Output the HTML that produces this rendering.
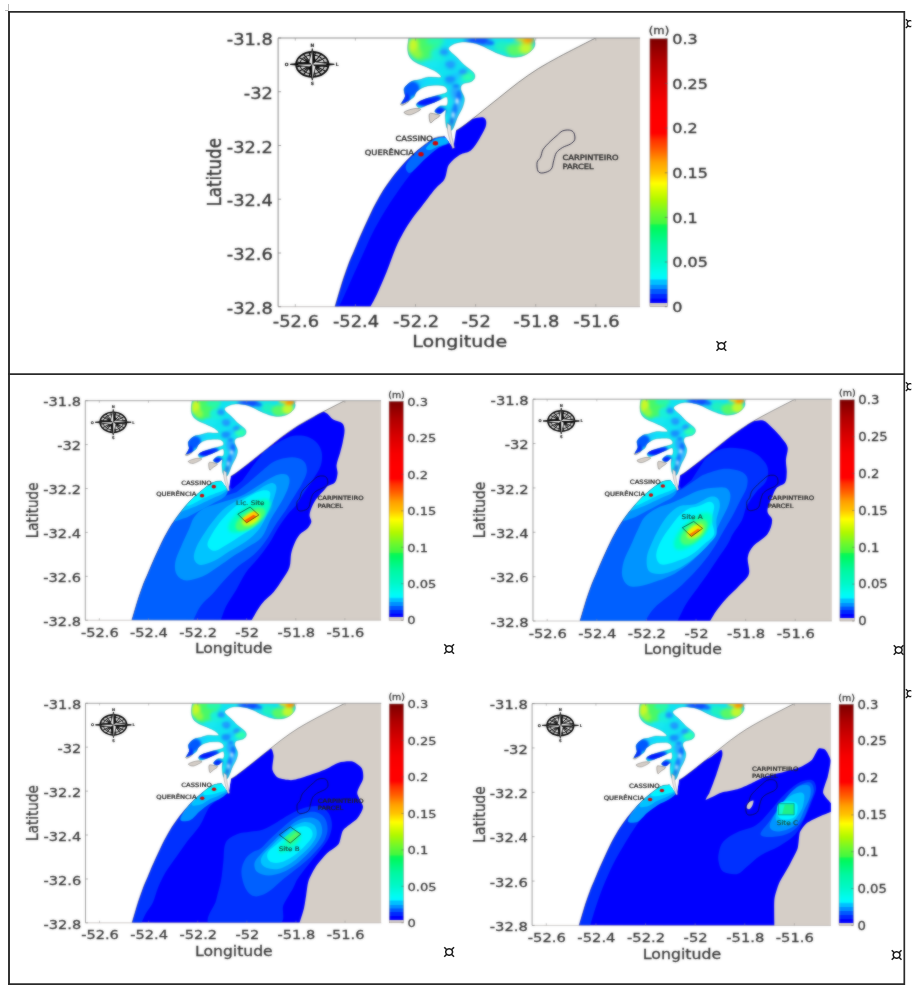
<!DOCTYPE html><html><head><meta charset="utf-8"><title>Figure</title>
<style>html,body{margin:0;padding:0;background:#fff}svg{display:block}text{font-family:"DejaVu Sans","Liberation Sans",sans-serif}</style></head><body>
<svg width="915" height="990" viewBox="0 0 915 990">
<defs><linearGradient id="cb" x1="0" y1="1" x2="0" y2="0"><stop offset="0" stop-color="#d5cec7"/><stop offset="0.0125" stop-color="#d5cec7"/><stop offset="0.0126" stop-color="#0000ff"/><stop offset="0.03" stop-color="#0000ff"/><stop offset="0.031" stop-color="#0028ff"/><stop offset="0.048" stop-color="#0028ff"/><stop offset="0.049" stop-color="#0058ff"/><stop offset="0.065" stop-color="#0058ff"/><stop offset="0.066" stop-color="#0090ff"/><stop offset="0.082" stop-color="#0090ff"/><stop offset="0.083" stop-color="#00c0ff"/><stop offset="0.098" stop-color="#00c0ff"/><stop offset="0.105" stop-color="#00f8ff"/><stop offset="0.125" stop-color="#00fcf0"/><stop offset="0.17" stop-color="#00f8c8"/><stop offset="0.23" stop-color="#00f8a0"/><stop offset="0.29" stop-color="#00f860"/><stop offset="0.305" stop-color="#10f850"/><stop offset="0.31" stop-color="#40f840"/><stop offset="0.345" stop-color="#68f830"/><stop offset="0.4" stop-color="#b0f800"/><stop offset="0.46" stop-color="#ffff00"/><stop offset="0.5" stop-color="#ffc400"/><stop offset="0.54" stop-color="#ffa000"/><stop offset="0.584" stop-color="#ff6000"/><stop offset="0.623" stop-color="#ff3000"/><stop offset="0.648" stop-color="#ff0000"/><stop offset="0.7" stop-color="#ff0000"/><stop offset="0.76" stop-color="#f80000"/><stop offset="0.84" stop-color="#d80000"/><stop offset="0.92" stop-color="#b00000"/><stop offset="1" stop-color="#7c0000"/></linearGradient><filter color-interpolation-filters="sRGB" id="b0" x="-20%" y="-20%" width="140%" height="140%"><feGaussianBlur stdDeviation="0.45"/></filter><filter color-interpolation-filters="sRGB" id="b1" x="-5%" y="-5%" width="110%" height="110%"><feGaussianBlur stdDeviation="0.82" result="b"/><feComposite in="b" in2="SourceGraphic" operator="arithmetic" k1="0" k2="0.55" k3="0.45" k4="0"/></filter><filter color-interpolation-filters="sRGB" id="b1s" x="-5%" y="-5%" width="110%" height="110%"><feGaussianBlur stdDeviation="1.0" result="b"/><feComposite in="b" in2="SourceGraphic" operator="arithmetic" k1="0" k2="0.55" k3="0.45" k4="0"/></filter><filter color-interpolation-filters="sRGB" id="b2" x="-50%" y="-50%" width="200%" height="200%"><feGaussianBlur stdDeviation="2.2"/></filter><filter color-interpolation-filters="sRGB" id="b4" x="-50%" y="-50%" width="200%" height="200%"><feGaussianBlur stdDeviation="3"/></filter><filter color-interpolation-filters="sRGB" id="b5" x="-30%" y="-30%" width="160%" height="160%"><feGaussianBlur stdDeviation="0.8"/></filter><filter color-interpolation-filters="sRGB" id="b3" x="-50%" y="-50%" width="200%" height="200%"><feGaussianBlur stdDeviation="1.2"/></filter><clipPath id="lagclip"><path d="M131.2,-12C110.7,-10.5 131.3,-6.6 131,-3C130.7,0.6 129.5,6 129.5,9.5C129.5,13 129.9,15.7 131.2,18.2C132.5,20.7 134.3,22.4 137.4,24.3C140.5,26.2 146.1,28 149.6,29.6C153.1,31.2 156.1,32.4 158.3,34C160.5,35.6 164.1,38.3 162.7,39.2C161.2,40.1 153.2,38.8 149.6,39.2C146,39.6 143.7,41.1 140.9,41.8C138.1,42.5 135.5,42.1 133,43.6C130.5,45.1 127,48.1 126,50.6C125,53.1 127.3,55.9 126.9,58.4C126.5,60.9 123.1,64.5 123.4,65.4C123.7,66.3 126.6,64.7 128.6,63.7C130.6,62.7 133.8,61 135.6,59.3C137.3,57.5 136.8,55.1 139.1,53.2C141.4,51.3 145.2,48.8 149.6,47.9C154,47 162.1,46.9 165.3,47.9C168.5,48.9 170,52.5 168.8,54.1C167.6,55.7 162.4,56.3 158.3,57.6C154.2,58.9 147.7,60.5 144.3,61.9C141,63.3 138.6,65 138.2,66.3C137.8,67.6 139.5,69.8 141.7,69.8C143.9,69.8 148,67.6 151.3,66.3C154.7,65 158.9,63.1 161.8,61.9C164.7,60.7 167.6,58.4 168.8,59.3C170,60.2 170,65.8 168.8,67.2C167.6,68.7 163.8,67 161.8,68C159.8,69 156.6,72 156.6,73.3C156.6,74.6 160,76.1 161.8,75.9C163.6,75.7 166.6,71.5 167.5,72C168.4,72.5 166.9,76 167.1,79C167.3,82 167.6,87.8 168.8,89.9C170,92 172.3,93.5 174.1,91.7C175.8,90 177.6,83.2 179.3,79.4C181.1,75.6 183.4,72.1 184.6,68.9C185.8,65.7 186.6,63.1 186.3,60.2C186,57.3 183.1,53.7 182.8,51.4C182.5,49.1 182.8,47.5 184.6,46.2C186.3,44.9 191.3,44.8 193.3,43.6C195.3,42.4 196.5,40.8 196.8,39.2C197.1,37.6 196.8,36 195,34C193.2,32 189.2,29.6 186.3,27C183.4,24.4 180.2,20.8 177.6,18.2C175,15.6 171.2,13.1 170.6,11.2C170,9.3 172.1,8.1 174.1,6.9C176.1,5.7 179.3,4.5 182.8,4.2C186.3,3.9 191.2,4.4 195,5.1C198.8,5.8 201.7,7 205.5,8.6C209.3,10.2 213.4,12.9 217.8,14.7C222.2,16.4 227.4,18.5 231.8,19.1C236.2,19.7 240.5,19.2 244,18.2C247.5,17.2 250.8,15 253,13C255.2,11 256.7,8.9 257,6.2C257.3,3.5 255.5,0 255,-3C254.5,-6 274.6,-10.5 254,-12C233.4,-13.5 151.7,-13.5 131.2,-12Z"/></clipPath><clipPath id="seaclip"><path d="M321,-1.8C320.4,-1.5 320.8,-1.8 317.4,0C314,1.8 306.7,5.5 300.5,8.7C294.3,11.9 287,15.5 280.3,19.2C273.6,22.9 266.9,26.4 260.2,30.6C253.5,34.8 246.7,39.6 240,44.6C233.3,49.6 226.7,55.2 220,60.5C213.3,65.8 205.8,71.9 200,76.5C194.2,81.1 188.7,85.3 185,88C181.3,90.7 179.2,91.8 178,92.5L175.2,110.3L166.5,98.2C164.7,98.6 160,98.2 155.6,100.4C151.2,102.6 145,107.8 140.3,111.6C135.6,115.4 131.6,119.3 127.5,123.5C123.5,127.7 119.8,132.2 116,137C112.2,141.8 108.2,147.4 105,152.5C101.8,157.6 99,162.8 96.5,167.5C94,172.2 92.5,175.7 90,181C87.5,186.3 84.1,193.7 81.7,199.2C79.3,204.7 77.3,209.8 75.5,214C73.7,218.2 72.8,219.7 71,224.5C69.2,229.3 66.9,235.5 64.5,242.9C62.1,250.3 58.1,264.4 56.8,268.7L364,270.7 L364,-2 L321,-2Z"/></clipPath><clipPath id="axclip"><rect x="0" y="0" width="362" height="268.7"/></clipPath><g id="lagoon"><path d="M151.3,75.9C150.5,77.4 151.4,83.7 152.2,84.7C153,85.7 154.4,83.2 156,82C157.6,80.8 161.6,78.7 161.8,77.7C162,76.7 158.8,76.3 157,76C155.2,75.7 152.1,74.5 151.3,75.9Z" fill="#d5cec7" stroke="#555" stroke-width="0.5"/><path d="M126,74.2C125.4,75.2 129.3,77.2 132.1,76.8C134.9,76.3 142,72.5 142.6,71.5C143.2,70.5 138.4,70.2 135.6,70.7C132.8,71.2 126.6,73.2 126,74.2Z" fill="#d5cec7" stroke="#555" stroke-width="0.5"/><path d="M122.5,66C122,66.8 123.6,67.5 125,67C126.4,66.5 130.5,63.8 131,63C131.5,62.2 129.4,61.5 128,62C126.6,62.5 123,65.2 122.5,66Z" fill="#d5cec7" stroke="#555" stroke-width="0.5"/><g clip-path="url(#lagclip)"><rect x="110" y="-5" width="160" height="105" fill="#10e4f0"/><g filter="url(#b2)"><ellipse cx="146" cy="10" rx="16" ry="14" fill="#48f868"/><ellipse cx="135" cy="8" rx="5.5" ry="9" fill="#c8f828"/><ellipse cx="139" cy="16" rx="5" ry="5" fill="#90f840"/><ellipse cx="157" cy="3" rx="9" ry="5" fill="#28f8a8"/><ellipse cx="160" cy="16" rx="8" ry="7" fill="#18f0d8"/><ellipse cx="152" cy="26" rx="9" ry="5" fill="#18e8f0"/><ellipse cx="166" cy="14" rx="4" ry="3.5" fill="#1c98ff"/><ellipse cx="172.6" cy="27" rx="4.5" ry="4" fill="#2090ff"/><ellipse cx="180" cy="22" rx="5" ry="4" fill="#18d8f8"/><ellipse cx="185.7" cy="34.7" rx="4" ry="3.5" fill="#2088ff"/><ellipse cx="190" cy="39" rx="7" ry="5" fill="#30ffb0"/><ellipse cx="178" cy="38" rx="4" ry="4" fill="#18c8ff"/><ellipse cx="172" cy="42" rx="5" ry="4" fill="#1890ff"/><ellipse cx="177.5" cy="54" rx="5" ry="8" fill="#28a8ff"/><ellipse cx="180" cy="66" rx="4.5" ry="8" fill="#38b4ff"/><ellipse cx="176" cy="78" rx="4" ry="8" fill="#30a8f8"/><ellipse cx="172.5" cy="88" rx="3" ry="5" fill="#2898e0"/><ellipse cx="181" cy="58" rx="2.5" ry="4" fill="#1060ff"/><ellipse cx="176" cy="72" rx="2" ry="3" fill="#1068ff"/><ellipse cx="152" cy="44" rx="10" ry="4" fill="#10e0f8"/><ellipse cx="142" cy="44" rx="6" ry="4" fill="#18d0ff"/><ellipse cx="133" cy="50" rx="8" ry="7" fill="#0060ff"/><ellipse cx="127" cy="60" rx="5" ry="6" fill="#0040ff"/><ellipse cx="150" cy="63" rx="12" ry="4.5" fill="#0020ff"/><ellipse cx="162" cy="73" rx="5.5" ry="3.5" fill="#0030ff"/><ellipse cx="194" cy="2.5" rx="8" ry="3.5" fill="#1c70ff"/><ellipse cx="206" cy="3.5" rx="7" ry="3.5" fill="#1040ff"/><ellipse cx="214" cy="9" rx="8" ry="5" fill="#18d8f0"/><ellipse cx="224" cy="9" rx="8" ry="6" fill="#20f0c0"/><ellipse cx="237" cy="12" rx="9" ry="7" fill="#58f868"/><ellipse cx="248" cy="10" rx="7" ry="7" fill="#c0f830"/><ellipse cx="250" cy="1.5" rx="7" ry="3.5" fill="#ff9000"/><ellipse cx="242" cy="0.5" rx="5" ry="2.5" fill="#ffd800"/></g><g filter="url(#b3)"><ellipse cx="133" cy="51" rx="8" ry="7" fill="#0058ff"/><ellipse cx="127.5" cy="61" rx="4.5" ry="6" fill="#0030ff"/><ellipse cx="124" cy="66" rx="3" ry="3" fill="#0020ff"/><ellipse cx="148" cy="64" rx="11" ry="3.6" fill="#0018ff"/><ellipse cx="158" cy="60.5" rx="5" ry="2.5" fill="#0030ff"/><ellipse cx="161.5" cy="73" rx="5" ry="3" fill="#0028ff"/><ellipse cx="166" cy="14" rx="3.5" ry="1.6" fill="#1c98ff"/><ellipse cx="171.6" cy="26" rx="4" ry="1.8" fill="#20a0ff"/><ellipse cx="184.7" cy="33.7" rx="3.6" ry="1.6" fill="#2098ff"/><ellipse cx="172" cy="41" rx="4.5" ry="1.8" fill="#1890ff"/><ellipse cx="181" cy="57" rx="1.6" ry="4.5" fill="#1070ff"/><ellipse cx="177" cy="70" rx="1.5" ry="4.5" fill="#1078ff"/><ellipse cx="173.5" cy="83" rx="1.4" ry="3.5" fill="#1870e0"/><ellipse cx="178" cy="48" rx="3" ry="1.6" fill="#1080ff"/><ellipse cx="179" cy="63" rx="1.2" ry="3" fill="#e8f4ff"/><ellipse cx="175" cy="77" rx="1" ry="3" fill="#e8f4ff"/><ellipse cx="200" cy="2.5" rx="9" ry="2.4" fill="#1050ff"/><ellipse cx="212" cy="5" rx="4" ry="1.8" fill="#1068ff"/></g></g><path d="M131.2,-12C110.7,-10.5 131.3,-6.6 131,-3C130.7,0.6 129.5,6 129.5,9.5C129.5,13 129.9,15.7 131.2,18.2C132.5,20.7 134.3,22.4 137.4,24.3C140.5,26.2 146.1,28 149.6,29.6C153.1,31.2 156.1,32.4 158.3,34C160.5,35.6 164.1,38.3 162.7,39.2C161.2,40.1 153.2,38.8 149.6,39.2C146,39.6 143.7,41.1 140.9,41.8C138.1,42.5 135.5,42.1 133,43.6C130.5,45.1 127,48.1 126,50.6C125,53.1 127.3,55.9 126.9,58.4C126.5,60.9 123.1,64.5 123.4,65.4C123.7,66.3 126.6,64.7 128.6,63.7C130.6,62.7 133.8,61 135.6,59.3C137.3,57.5 136.8,55.1 139.1,53.2C141.4,51.3 145.2,48.8 149.6,47.9C154,47 162.1,46.9 165.3,47.9C168.5,48.9 170,52.5 168.8,54.1C167.6,55.7 162.4,56.3 158.3,57.6C154.2,58.9 147.7,60.5 144.3,61.9C141,63.3 138.6,65 138.2,66.3C137.8,67.6 139.5,69.8 141.7,69.8C143.9,69.8 148,67.6 151.3,66.3C154.7,65 158.9,63.1 161.8,61.9C164.7,60.7 167.6,58.4 168.8,59.3C170,60.2 170,65.8 168.8,67.2C167.6,68.7 163.8,67 161.8,68C159.8,69 156.6,72 156.6,73.3C156.6,74.6 160,76.1 161.8,75.9C163.6,75.7 166.6,71.5 167.5,72C168.4,72.5 166.9,76 167.1,79C167.3,82 167.6,87.8 168.8,89.9C170,92 172.3,93.5 174.1,91.7C175.8,90 177.6,83.2 179.3,79.4C181.1,75.6 183.4,72.1 184.6,68.9C185.8,65.7 186.6,63.1 186.3,60.2C186,57.3 183.1,53.7 182.8,51.4C182.5,49.1 182.8,47.5 184.6,46.2C186.3,44.9 191.3,44.8 193.3,43.6C195.3,42.4 196.5,40.8 196.8,39.2C197.1,37.6 196.8,36 195,34C193.2,32 189.2,29.6 186.3,27C183.4,24.4 180.2,20.8 177.6,18.2C175,15.6 171.2,13.1 170.6,11.2C170,9.3 172.1,8.1 174.1,6.9C176.1,5.7 179.3,4.5 182.8,4.2C186.3,3.9 191.2,4.4 195,5.1C198.8,5.8 201.7,7 205.5,8.6C209.3,10.2 213.4,12.9 217.8,14.7C222.2,16.4 227.4,18.5 231.8,19.1C236.2,19.7 240.5,19.2 244,18.2C247.5,17.2 250.8,15 253,13C255.2,11 256.7,8.9 257,6.2C257.3,3.5 255.5,0 255,-3C254.5,-6 274.6,-10.5 254,-12C233.4,-13.5 151.7,-13.5 131.2,-12Z" fill="none" stroke="#4a6a70" stroke-width="0.4" opacity="0.7"/></g><g id="compass"><ellipse cx="0" cy="0" rx="16.2" ry="12.4" fill="#d8d8d8" stroke="#000" stroke-width="1.8"/><ellipse cx="0" cy="0" rx="12.4" ry="9.4" fill="#eeeeee" stroke="#000" stroke-width="1"/><line x1="4.9" y1="0.7" x2="15.7" y2="2.4" stroke="#000" stroke-width="1.1"/><line x1="4.2" y1="2.1" x2="13.3" y2="6.8" stroke="#000" stroke-width="1.1"/><line x1="2.8" y1="3.2" x2="8.9" y2="10.2" stroke="#000" stroke-width="1.1"/><line x1="1" y1="3.7" x2="3.1" y2="12.1" stroke="#000" stroke-width="1.1"/><line x1="-1" y1="3.7" x2="-3.1" y2="12.1" stroke="#000" stroke-width="1.1"/><line x1="-2.8" y1="3.2" x2="-8.9" y2="10.2" stroke="#000" stroke-width="1.1"/><line x1="-4.2" y1="2.1" x2="-13.3" y2="6.8" stroke="#000" stroke-width="1.1"/><line x1="-4.9" y1="0.7" x2="-15.7" y2="2.4" stroke="#000" stroke-width="1.1"/><line x1="-4.9" y1="-0.7" x2="-15.7" y2="-2.4" stroke="#000" stroke-width="1.1"/><line x1="-4.2" y1="-2.1" x2="-13.3" y2="-6.8" stroke="#000" stroke-width="1.1"/><line x1="-2.8" y1="-3.2" x2="-8.9" y2="-10.2" stroke="#000" stroke-width="1.1"/><line x1="-1" y1="-3.7" x2="-3.1" y2="-12.1" stroke="#000" stroke-width="1.1"/><line x1="1" y1="-3.7" x2="3.1" y2="-12.1" stroke="#000" stroke-width="1.1"/><line x1="2.8" y1="-3.2" x2="8.9" y2="-10.2" stroke="#000" stroke-width="1.1"/><line x1="4.2" y1="-2.1" x2="13.3" y2="-6.8" stroke="#000" stroke-width="1.1"/><line x1="4.9" y1="-0.7" x2="15.7" y2="-2.4" stroke="#000" stroke-width="1.1"/><path d="M0,0L10,-7.6L3,0L10,7.6L0,2.3L-10,7.6L-3,0L-10,-7.6L0,-2.3Z" fill="#1a1a1a"/><path d="M0,-15.8L3.3,-2.5L22,0L3.3,2.5L0,15.8L-3.3,2.5L-22,0L-3.3,-2.5Z" fill="#fff" stroke="#000" stroke-width="0.8"/><path d="M0,-15.8L3.6,-2.7L0,0ZM22,0L3.6,2.7L0,0ZM0,15.8L-3.6,2.7L0,0ZM-22,0L-3.6,-2.7L0,0Z" fill="#000"/><path d="M-21.8,0H-14M14,0H21.8" stroke="#000" stroke-width="1.1"/><g font-size="4.4" font-weight="bold" fill="#111" stroke="#111" stroke-width="0.2" text-anchor="middle"><text x="0" y="-17.4">N</text><text x="0" y="20.4">S</text><text x="-25.6" y="1.6">O</text><text x="24.8" y="1.6">L</text></g></g></defs>
<rect width="915" height="990" fill="#fff"/>
<g stroke="#2a2a2a" fill="none">
<path d="M9,11 V985" stroke-width="1.9"/>
<path d="M8,11.9 H905" stroke-width="1.9"/>
<path d="M904.3,11 V985" stroke-width="1.7"/>
<path d="M8,984.1 H905" stroke-width="1.9"/>
<path d="M8,374.1 H905" stroke-width="1.9"/>
</g>
<path d="M8.5,4v6.5M5,10.5h3.5" stroke="#bbb" stroke-width="1" fill="none"/>
<text x="715" y="352.3" font-size="20" fill="#1a1a1a" filter="url(#b0)" font-family='"Liberation Serif",serif'>¤</text>
<text x="442.7" y="655.3" font-size="20" fill="#1a1a1a" filter="url(#b0)" font-family='"Liberation Serif",serif'>¤</text>
<text x="892.2" y="656.4" font-size="20" fill="#1a1a1a" filter="url(#b0)" font-family='"Liberation Serif",serif'>¤</text>
<text x="442.7" y="958" font-size="20" fill="#1a1a1a" filter="url(#b0)" font-family='"Liberation Serif",serif'>¤</text>
<text x="890.2" y="961.2" font-size="20" fill="#1a1a1a" filter="url(#b0)" font-family='"Liberation Serif",serif'>¤</text>
<clipPath id="rclip"><rect x="904" y="0" width="7.3" height="990"/></clipPath><g clip-path="url(#rclip)">
<text x="904.6" y="29.4" font-size="18" fill="#1a1a1a" filter="url(#b0)" font-family='"Liberation Serif",serif'>¤</text>
<text x="904.6" y="392.1" font-size="18" fill="#1a1a1a" filter="url(#b0)" font-family='"Liberation Serif",serif'>¤</text>
<text x="904.6" y="699.3" font-size="18" fill="#1a1a1a" filter="url(#b0)" font-family='"Liberation Serif",serif'>¤</text>
</g>
<g transform="translate(278.1,38) scale(1.0000,1.0000)" filter="url(#b1)"><g clip-path="url(#axclip)"><path d="M321,-1.8C320.4,-1.5 320.8,-1.8 317.4,0C314,1.8 306.7,5.5 300.5,8.7C294.3,11.9 287,15.5 280.3,19.2C273.6,22.9 266.9,26.4 260.2,30.6C253.5,34.8 246.7,39.6 240,44.6C233.3,49.6 226.7,55.2 220,60.5C213.3,65.8 205.8,71.9 200,76.5C194.2,81.1 188.7,85.3 185,88C181.3,90.7 179.2,91.8 178,92.5L175.2,110.3L166.5,98.2C164.7,98.6 160,98.2 155.6,100.4C151.2,102.6 145,107.8 140.3,111.6C135.6,115.4 131.6,119.3 127.5,123.5C123.5,127.7 119.8,132.2 116,137C112.2,141.8 108.2,147.4 105,152.5C101.8,157.6 99,162.8 96.5,167.5C94,172.2 92.5,175.7 90,181C87.5,186.3 84.1,193.7 81.7,199.2C79.3,204.7 77.3,209.8 75.5,214C73.7,218.2 72.8,219.7 71,224.5C69.2,229.3 66.9,235.5 64.5,242.9C62.1,250.3 58.1,264.4 56.8,268.7L364,270.7 L364,-2 L321,-2Z" fill="#d5cec7"/><g clip-path="url(#seaclip)"><path d="M175.2,96C176.6,94.2 180.6,87.5 183.9,85C187.2,82.5 191.2,81.6 194.9,80.7C198.6,79.8 203.6,78.6 205.8,79.7C208,80.8 208.6,83.8 207.9,87.3C207.2,90.8 204,96.2 201.5,100.4C199,104.6 196,109.7 192.7,112.4C189.4,115.1 185.4,114.4 181.8,116.8C178.2,119.2 173.5,122.6 170.9,126.6C168.3,130.6 168.8,136.9 166.5,141C164.2,145.1 160.6,146.7 156.8,151.2C153,155.7 147.4,163.4 143.7,168.2C140,173 137.6,175.6 134.5,180C131.4,184.4 128.1,189.4 125.3,194.4C122.5,199.4 120.3,203.6 117.5,210.2C114.7,216.8 111.6,226.4 108.5,234C105.4,241.6 101.8,250 99,256C96.2,262 92.8,267.7 91.6,270L56,270 L56.8,268.7 L64.5,242.9 L71,224.5 L75.5,214 L81.7,199.2 L90,181 L96.5,167.5 L105,152.5 L116,137 L127.5,123.5 L140.3,111.6 L155.6,100.4 L166.5,98.2Z" fill="#0000ff"/><path d="M166,99C166.8,99.8 172.2,102 171,104C169.8,106 163.5,107.8 159,111C154.5,114.2 148.7,118.5 144,123C139.3,127.5 135.3,132.5 131,138C126.7,143.5 122.3,149.7 118,156C113.7,162.3 109,169.3 105,176C101,182.7 97.5,189 94,196C90.5,203 87.3,210.7 84,218C80.7,225.3 77,233.3 74,240C71,246.7 68.3,253 66,258C63.7,263 61,268 60,270L56,270L56.8,268.7 L64.5,242.9 L71,224.5 L75.5,214 L81.7,199.2 L90,181 L96.5,167.5 L105,152.5 L116,137 L127.5,123.5 L140.3,111.6 L155.6,100.4 L166.5,98.2Z" fill="#0028ff"/><path d="M167,99.5C169.5,100.2 172.2,103.2 171,105C169.8,106.8 163.8,107.5 160,110C156.2,112.5 151.7,116.7 148,120C144.3,123.3 140.8,127.5 138,130C135.2,132.5 132.7,135.5 131,135C129.3,134.5 126.5,130.7 128,127C129.5,123.3 135.3,117.3 140,113C144.7,108.7 151.5,103.2 156,101C160.5,98.8 164.5,98.8 167,99.5Z" fill="#0068ff"/><path d="M167,100C169.1,100.6 170.7,103.6 169.5,105C168.3,106.4 162.9,107.3 160,108.5C157.1,109.7 154,111.8 152,112C150,112.2 147.2,111.8 148,110C148.8,108.2 153.8,103.2 157,101.5C160.2,99.8 164.9,99.4 167,100Z" fill="#00b0ff"/></g><path d="M321,-1.8C320.4,-1.5 320.8,-1.8 317.4,0C314,1.8 306.7,5.5 300.5,8.7C294.3,11.9 287,15.5 280.3,19.2C273.6,22.9 266.9,26.4 260.2,30.6C253.5,34.8 246.7,39.6 240,44.6C233.3,49.6 226.7,55.2 220,60.5C213.3,65.8 205.8,71.9 200,76.5C194.2,81.1 188.7,85.3 185,88C181.3,90.7 179.2,91.8 178,92.5" fill="none" stroke="#555" stroke-width="0.7"/><path d="M166.5,98.2C164.7,98.6 160,98.2 155.6,100.4C151.2,102.6 145,107.8 140.3,111.6C135.6,115.4 131.6,119.3 127.5,123.5C123.5,127.7 119.8,132.2 116,137C112.2,141.8 108.2,147.4 105,152.5C101.8,157.6 99,162.8 96.5,167.5C94,172.2 92.5,175.7 90,181C87.5,186.3 84.1,193.7 81.7,199.2C79.3,204.7 77.3,209.8 75.5,214C73.7,218.2 72.8,219.7 71,224.5C69.2,229.3 66.9,235.5 64.5,242.9C62.1,250.3 58.1,264.4 56.8,268.7" fill="none" stroke="#555" stroke-width="0.5"/><use href="#lagoon"/><path d="M169.2,85 C168.6,95 172,102 174.4,110.5 L176.4,109.8 C174.4,102 172.6,96 172.8,88Z" fill="#ece6e6" stroke="#777" stroke-width="0.45"/><path d="M259,124.4C258.6,126.7 258.9,131.4 259.9,133.2C260.9,134.9 262.9,135.2 265.1,134.9C267.3,134.6 271.2,133.4 273,131.4C274.8,129.4 274.7,125.5 275.6,122.7C276.5,119.9 276.8,117 278.2,114.8C279.6,112.6 282,111 284.3,109.6C286.6,108.1 290.1,107.4 292.2,106.1C294.2,104.8 296,103.6 296.6,101.7C297.2,99.8 296.6,96.3 295.7,94.7C294.8,93.1 293.2,92.4 291.3,92.1C289.4,91.8 286.3,92.1 284.3,93C282.3,93.9 281.1,95.5 279.1,97.3C277.1,99 274.4,101.2 272.1,103.5C269.8,105.8 266.7,108.7 265.1,111.3C263.5,113.9 263.5,117 262.5,119.2C261.5,121.4 259.4,122.1 259,124.4Z" fill="none" stroke="#10102a" stroke-width="0.85"/><g fill="#333"><text transform="translate(117.3,102.6) scale(1.16,1)" font-size="7.2" text-anchor="start" fill="#222" stroke="#222" stroke-width="0.3">CASSINO</text><text transform="translate(86.7,116.8) scale(1.16,1)" font-size="7.2" text-anchor="start" fill="#222" stroke="#222" stroke-width="0.3">QUERÊNCIA</text><text transform="translate(284.3,121.8) scale(1.16,1)" font-size="7.2" text-anchor="start" fill="#222" stroke="#222" stroke-width="0.3">CARPINTEIRO</text><text transform="translate(284.3,131.2) scale(1.16,1)" font-size="7.2" text-anchor="start" fill="#222" stroke="#222" stroke-width="0.3">PARCEL</text></g><ellipse cx="157.3" cy="105.2" rx="2.7" ry="2.2" fill="#d40000"/><ellipse cx="142.9" cy="116.2" rx="2.7" ry="2.2" fill="#d40000"/><use href="#compass" x="34.2" y="26.4"/></g><path d="M0,268.7 L0,0 L362,0" fill="none" stroke="#8a8a8a" stroke-width="1"/><path d="M0,268.7 L362,268.7" fill="none" stroke="#a8a4a0" stroke-width="0.7"/><path d="M17.2,0v2.6M17.2,268.7v-2.6" stroke="#888" stroke-width="0.6"/><path d="M77.3,0v2.6M77.3,268.7v-2.6" stroke="#888" stroke-width="0.6"/><path d="M137.4,0v2.6M137.4,268.7v-2.6" stroke="#888" stroke-width="0.6"/><path d="M197.5,0v2.6M197.5,268.7v-2.6" stroke="#888" stroke-width="0.6"/><path d="M257.6,0v2.6M257.6,268.7v-2.6" stroke="#888" stroke-width="0.6"/><path d="M317.7,0v2.6M317.7,268.7v-2.6" stroke="#888" stroke-width="0.6"/><path d="M0,0h3" stroke="#777" stroke-width="0.7"/><path d="M0,53.7h3" stroke="#777" stroke-width="0.7"/><path d="M0,107.5h3" stroke="#777" stroke-width="0.7"/><path d="M0,161.2h3" stroke="#777" stroke-width="0.7"/><path d="M0,215h3" stroke="#777" stroke-width="0.7"/><path d="M0,268.7h3" stroke="#777" stroke-width="0.7"/><text transform="translate(17.8,288.8) scale(1.16,1)" font-size="15.4" text-anchor="middle" fill="#363636" stroke="#363636" stroke-width="0.34">-52.6</text><text transform="translate(77.9,288.8) scale(1.16,1)" font-size="15.4" text-anchor="middle" fill="#363636" stroke="#363636" stroke-width="0.34">-52.4</text><text transform="translate(138,288.8) scale(1.16,1)" font-size="15.4" text-anchor="middle" fill="#363636" stroke="#363636" stroke-width="0.34">-52.2</text><text transform="translate(198.1,288.8) scale(1.16,1)" font-size="15.4" text-anchor="middle" fill="#363636" stroke="#363636" stroke-width="0.34">-52</text><text transform="translate(258.2,288.8) scale(1.16,1)" font-size="15.4" text-anchor="middle" fill="#363636" stroke="#363636" stroke-width="0.34">-51.8</text><text transform="translate(318.3,288.8) scale(1.16,1)" font-size="15.4" text-anchor="middle" fill="#363636" stroke="#363636" stroke-width="0.34">-51.6</text><text transform="translate(-5.2,7) scale(1.16,1)" font-size="15.4" text-anchor="end" fill="#363636" stroke="#363636" stroke-width="0.34">-31.8</text><text transform="translate(-5.2,60.7) scale(1.16,1)" font-size="15.4" text-anchor="end" fill="#363636" stroke="#363636" stroke-width="0.34">-32</text><text transform="translate(-5.2,114.5) scale(1.16,1)" font-size="15.4" text-anchor="end" fill="#363636" stroke="#363636" stroke-width="0.34">-32.2</text><text transform="translate(-5.2,168.2) scale(1.16,1)" font-size="15.4" text-anchor="end" fill="#363636" stroke="#363636" stroke-width="0.34">-32.4</text><text transform="translate(-5.2,222) scale(1.16,1)" font-size="15.4" text-anchor="end" fill="#363636" stroke="#363636" stroke-width="0.34">-32.6</text><text transform="translate(-5.2,275.7) scale(1.16,1)" font-size="15.4" text-anchor="end" fill="#363636" stroke="#363636" stroke-width="0.34">-32.8</text><text transform="translate(181.6,309.2) scale(1.15,1)" font-size="16.6" text-anchor="middle" fill="#363636" stroke="#363636" stroke-width="0.34">Longitude</text><text transform="translate(-57.6,134.3) rotate(-90) scale(1,1.16)" font-size="16.6" text-anchor="middle" fill="#363636" stroke="#363636" stroke-width="0.34">Latitude</text><rect x="371.8" y="0.8" width="17.5" height="267.9" fill="url(#cb)" stroke="#8a8080" stroke-width="0.5"/><path d="M389.3,268.7h-2.6" stroke="#555" stroke-width="0.6"/><text transform="translate(394.1,273.9) scale(1.16,1)" font-size="13.8" text-anchor="start" fill="#363636" stroke="#363636" stroke-width="0.34">0</text><path d="M389.3,224h-2.6" stroke="#555" stroke-width="0.6"/><text transform="translate(394.1,229.2) scale(1.16,1)" font-size="13.8" text-anchor="start" fill="#363636" stroke="#363636" stroke-width="0.34">0.05</text><path d="M389.3,179.4h-2.6" stroke="#555" stroke-width="0.6"/><text transform="translate(394.1,184.6) scale(1.16,1)" font-size="13.8" text-anchor="start" fill="#363636" stroke="#363636" stroke-width="0.34">0.1</text><path d="M389.3,134.8h-2.6" stroke="#555" stroke-width="0.6"/><text transform="translate(394.1,139.9) scale(1.16,1)" font-size="13.8" text-anchor="start" fill="#363636" stroke="#363636" stroke-width="0.34">0.15</text><path d="M389.3,90.1h-2.6" stroke="#555" stroke-width="0.6"/><text transform="translate(394.1,95.3) scale(1.16,1)" font-size="13.8" text-anchor="start" fill="#363636" stroke="#363636" stroke-width="0.34">0.2</text><path d="M389.3,45.4h-2.6" stroke="#555" stroke-width="0.6"/><text transform="translate(394.1,50.6) scale(1.16,1)" font-size="13.8" text-anchor="start" fill="#363636" stroke="#363636" stroke-width="0.34">0.25</text><path d="M389.3,0.8h-2.6" stroke="#555" stroke-width="0.6"/><text transform="translate(394.1,6) scale(1.16,1)" font-size="13.8" text-anchor="start" fill="#363636" stroke="#363636" stroke-width="0.34">0.3</text><text transform="translate(380.9,-3.6) scale(1.16,1)" font-size="10" text-anchor="middle" fill="#363636" stroke="#363636" stroke-width="0.34">(m)</text></g>
<g transform="translate(85.3,400.7) scale(0.8170,0.8170)" filter="url(#b1s)"><g clip-path="url(#axclip)"><path d="M321,-1.8C320.4,-1.5 320.8,-1.8 317.4,0C314,1.8 306.7,5.5 300.5,8.7C294.3,11.9 287,15.5 280.3,19.2C273.6,22.9 266.9,26.4 260.2,30.6C253.5,34.8 246.7,39.6 240,44.6C233.3,49.6 226.7,55.2 220,60.5C213.3,65.8 205.8,71.9 200,76.5C194.2,81.1 188.7,85.3 185,88C181.3,90.7 179.2,91.8 178,92.5L175.2,110.3L166.5,98.2C164.7,98.6 160,98.2 155.6,100.4C151.2,102.6 145,107.8 140.3,111.6C135.6,115.4 131.6,119.3 127.5,123.5C123.5,127.7 119.8,132.2 116,137C112.2,141.8 108.2,147.4 105,152.5C101.8,157.6 99,162.8 96.5,167.5C94,172.2 92.5,175.7 90,181C87.5,186.3 84.1,193.7 81.7,199.2C79.3,204.7 77.3,209.8 75.5,214C73.7,218.2 72.8,219.7 71,224.5C69.2,229.3 66.9,235.5 64.5,242.9C62.1,250.3 58.1,264.4 56.8,268.7L364,270.7 L364,-2 L321,-2Z" fill="#d5cec7"/><g clip-path="url(#seaclip)"><path d="M280,14C282.3,14.1 289.8,12.9 293.7,14.4C297.6,15.9 300,20.9 303.4,23C306.8,25.1 311.8,25.2 314.1,27.3C316.4,29.4 317.1,31.9 317.3,35.8C317.5,39.7 316,46.2 315.1,50.8C314.2,55.4 313.1,59 311.9,63.6C310.6,68.2 308.1,74.3 307.6,78.6C307.1,82.9 309.1,85.7 308.7,89.3C308.3,92.9 307.5,97.5 305.5,100C303.5,102.5 299,102.8 296.9,104.3C294.8,105.8 294.8,106.6 292.7,109C290.6,111.4 286.6,115.1 284.1,118.5C281.6,121.9 279.3,125.6 277.7,129.2C276.1,132.8 274.7,136.7 274.5,139.9C274.3,143.1 277.1,145.6 276.6,148.4C276.1,151.2 273.6,154.5 271.3,157C269,159.5 265.2,160.6 262.7,163.4C260.2,166.2 258.1,170.2 256.3,174.1C254.5,178 253.1,181.9 252,186.9C250.9,191.9 251.7,198.7 249.9,204C248.1,209.3 244.5,214 241.3,219C238.1,224 234.9,229 230.6,234C226.3,239 220.2,243 215.6,249C211,255 204.9,266.5 202.8,270L56,270 L56.8,268.7 L64.5,242.9 L71,224.5 L75.5,214 L81.7,199.2 L90,181 L96.5,167.5 L105,152.5 L116,137 L127.5,123.5 L140.3,111.6 L155.6,100.4 L166.5,98.2 L175.2,110.3 L178,92.5 L185,88 L200,76.5 L220,60.5 L240,44.6 L260.2,30.6 L280.3,19.2 L280,14Z" fill="#0000ff"/><path d="M219,62C222.2,60 232,53.2 238,50C244,46.8 249.3,44 255,43C260.7,42 267.2,42.5 272,44C276.8,45.5 281.1,48.7 284,52C286.9,55.3 288.8,59.3 289.5,64C290.2,68.7 289.8,74.7 288,80C286.2,85.3 282.3,90.7 279,96C275.7,101.3 271.5,106.7 268,112C264.5,117.3 261.5,123.3 258,128C254.5,132.7 251,135.1 247.2,140C243.4,144.9 238.7,151.6 235.1,157.3C231.5,163 229.5,168.1 225.5,174.1C221.5,180.1 215.8,187.4 211,193.4C206.2,199.4 201,203.8 196.6,210.2C192.2,216.6 188.5,225.1 184.5,231.9C180.5,238.7 175.7,244.8 172.5,251.2C169.3,257.6 166.5,266.9 165.3,270L56,270 L56.8,268.7 L64.5,242.9 L71,224.5 L75.5,214 L81.7,199.2 L90,181 L96.5,167.5 L105,152.5 L116,137 L127.5,123.5 L140.3,111.6 L155.6,100.4 L166.5,98.2 L171,100 L180,108 L192,98 L205,80Z" fill="#0030ff"/><path d="M215,87C217.5,85 225,77.8 230,75C235,72.2 240,70.8 245,70C250,69.2 256,69 260,70C264,71 267.2,73 269,76C270.8,79 271.7,83.7 271,88C270.3,92.3 267.3,97.5 265,102C262.7,106.5 259.7,110.7 257,115C254.3,119.3 251.1,124.7 249,128C246.9,131.3 247.4,131 244.7,135C242,139 236.7,145.9 232.7,152C228.7,158.1 225.1,165.6 220.7,171.7C216.3,177.8 211.8,183.4 206.2,188.6C200.6,193.8 192.9,197.8 186.9,203C180.9,208.2 175.3,214.3 170.1,219.9C164.9,225.5 160.4,231.5 155.6,236.7C150.8,241.9 145.2,245.6 141.2,251.2C137.2,256.8 133.2,266.9 131.6,270L56,270 L56.8,268.7 L64.5,242.9 L71,224.5 L75.5,214 L81.7,199.2 L90,181 L96.5,167.5 L105,152.5 L116,137 L127.5,123.5 L140,122 L160,120 L185,112 L200,100Z" fill="#0060ff"/><path d="M228,94C232.7,91.5 234.8,90.5 238,90C241.2,89.5 245,89.7 247,91C249,92.3 250,94.8 250,98C250,101.2 248.7,105.7 247,110C245.3,114.3 243.3,118.2 240,124C236.7,129.8 231,137.8 227,145C223,152.2 220.7,161.3 216,167C211.3,172.7 205,175 199,179C193,183 186,187 180,191C174,195 169,199 163,203C157,207 150.5,212.2 144,215C137.5,217.8 129.3,220.3 124,220C118.7,219.7 114.3,216.7 112,213C109.7,209.3 109.2,203.7 110,198C110.8,192.3 114.2,185.8 117,179C119.8,172.2 124.3,163 127,157C129.7,151 130,147.2 133,143C136,138.8 139.7,135 145,132C150.3,129 157.5,127.5 165,125C172.5,122.5 182.5,120.3 190,117C197.5,113.7 203.7,108.8 210,105C216.3,101.2 223.3,96.5 228,94Z" fill="#0094ff"/><path d="M222,103C226.2,101 228,100.5 230,101C232,101.5 233.8,103 234,106C234.2,109 232.8,113.7 231,119C229.2,124.3 226,131.7 223,138C220,144.3 217.3,151.3 213,157C208.7,162.7 203,167.5 197,172C191,176.5 183.5,180 177,184C170.5,188 164,193.2 158,196C152,198.8 145.2,201.5 141,201C136.8,200.5 133.8,196.7 133,193C132.2,189.3 133.8,184.2 136,179C138.2,173.8 142.7,167.2 146,162C149.3,156.8 152.3,152.7 156,148C159.7,143.3 163.3,138.2 168,134C172.7,129.8 177.8,126.5 184,123C190.2,119.5 198.7,116.3 205,113C211.3,109.7 217.8,105 222,103Z" fill="#00c4ff"/><path d="M220,109.5C222.7,109.5 225.1,110.2 226,112C226.9,113.8 226.4,116.5 225.5,120C224.6,123.5 223.5,127.8 220.7,133.2C217.9,138.6 213.4,147.2 208.6,152.4C203.8,157.6 197.8,160.5 191.8,164.5C185.8,168.5 178.1,173.3 172.5,176.5C166.9,179.7 161.9,183.7 158.1,183.7C154.3,183.7 150,180.1 149.6,176.5C149.2,172.9 152.6,167.3 155.6,162.1C158.6,156.9 163.3,150.4 167.7,145.2C172.1,140 177.3,135.1 182.1,130.8C186.9,126.5 191.9,122.6 196.6,119.5C201.2,116.4 206.1,113.7 210,112C213.9,110.3 217.3,109.5 220,109.5Z" fill="#00f4ff"/><ellipse cx="0" cy="0" rx="31" ry="12.5" transform="translate(201,141) rotate(-36)" fill="#00ffc0" filter="url(#b2)"/><ellipse cx="0" cy="0" rx="21" ry="10" transform="translate(202,145) rotate(-34)" fill="#48ff70" filter="url(#b3)"/><ellipse cx="0" cy="0" rx="12.5" ry="7" transform="translate(203,144.5) rotate(-32)" fill="#c0ff20" filter="url(#b3)"/><ellipse cx="0" cy="0" rx="8.5" ry="4.6" transform="translate(203.5,143.8) rotate(-32)" fill="#fff000" filter="url(#b3)"/><path d="M151.9,94.4C159.1,90.3 167.2,95.3 171,97.6C174.8,99.9 175.2,104.6 175,108C174.8,111.4 173.5,114.8 170,118C166.5,121.2 159.8,123.8 154,127C148.2,130.2 140.5,134.2 135,137C129.5,139.8 125.5,142.5 121,144C116.5,145.5 106.9,149.7 108,146C109.1,142.3 120.5,130.6 127.8,122C135.1,113.4 144.7,98.5 151.9,94.4Z" fill="#0094ff"/><path d="M151.9,94.4C158.2,91 166.7,95.4 170.5,97.6C174.3,99.8 174.9,104.8 174.5,107.5C174.1,110.2 171.1,112 168,114C164.9,116 160.3,117.5 156,119.5C151.7,121.5 146.5,124 142,126C137.5,128 133.3,130 129,131.5C124.7,133 115.4,137.2 116,135C116.6,132.8 126.6,124.8 132.6,118C138.6,111.2 145.6,97.8 151.9,94.4Z" fill="#00c4ff"/><path d="M151.9,94.4C157.6,91.7 166.3,95.6 170,97.6C173.7,99.6 174.8,104.2 174,106.5C173.2,108.8 168.3,110 165,111.5C161.7,113 157.8,113.9 154,115.5C150.2,117.1 145.7,119.2 142,121C138.3,122.8 135,124.8 132,126C129,127.2 123.4,130 124,128C124.6,126 131.2,119.6 135.8,114C140.5,108.4 146.2,97.1 151.9,94.4Z" fill="#00f4ff"/></g><path d="M321,-1.8C320.4,-1.5 320.8,-1.8 317.4,0C314,1.8 306.7,5.5 300.5,8.7C294.3,11.9 287,15.5 280.3,19.2C273.6,22.9 266.9,26.4 260.2,30.6C253.5,34.8 246.7,39.6 240,44.6C233.3,49.6 226.7,55.2 220,60.5C213.3,65.8 205.8,71.9 200,76.5C194.2,81.1 188.7,85.3 185,88C181.3,90.7 179.2,91.8 178,92.5" fill="none" stroke="#555" stroke-width="0.7"/><path d="M166.5,98.2C164.7,98.6 160,98.2 155.6,100.4C151.2,102.6 145,107.8 140.3,111.6C135.6,115.4 131.6,119.3 127.5,123.5C123.5,127.7 119.8,132.2 116,137C112.2,141.8 108.2,147.4 105,152.5C101.8,157.6 99,162.8 96.5,167.5C94,172.2 92.5,175.7 90,181C87.5,186.3 84.1,193.7 81.7,199.2C79.3,204.7 77.3,209.8 75.5,214C73.7,218.2 72.8,219.7 71,224.5C69.2,229.3 66.9,235.5 64.5,242.9C62.1,250.3 58.1,264.4 56.8,268.7" fill="none" stroke="#555" stroke-width="0.5"/><use href="#lagoon"/><path d="M169.2,85 C168.6,95 172,102 174.4,110.5 L176.4,109.8 C174.4,102 172.6,96 172.8,88Z" fill="#ece6e6" stroke="#777" stroke-width="0.45"/><path d="M259,124.4C258.6,126.7 258.9,131.4 259.9,133.2C260.9,134.9 262.9,135.2 265.1,134.9C267.3,134.6 271.2,133.4 273,131.4C274.8,129.4 274.7,125.5 275.6,122.7C276.5,119.9 276.8,117 278.2,114.8C279.6,112.6 282,111 284.3,109.6C286.6,108.1 290.1,107.4 292.2,106.1C294.2,104.8 296,103.6 296.6,101.7C297.2,99.8 296.6,96.3 295.7,94.7C294.8,93.1 293.2,92.4 291.3,92.1C289.4,91.8 286.3,92.1 284.3,93C282.3,93.9 281.1,95.5 279.1,97.3C277.1,99 274.4,101.2 272.1,103.5C269.8,105.8 266.7,108.7 265.1,111.3C263.5,113.9 263.5,117 262.5,119.2C261.5,121.4 259.4,122.1 259,124.4Z" fill="none" stroke="#10102a" stroke-width="0.85"/><path d="M192,144.2L207,135L212.4,139.9L197.4,149.5Z" fill="#ffd000" filter="url(#b5)"/><path d="M194.5,146.7L206,139.5L209.5,141.8L197.4,149.5Z" fill="#ff6000" filter="url(#b5)"/><path d="M186.7,138.8L201.7,130.2L212.4,139.9L197.4,149.5Z" fill="none" stroke="#111" stroke-width="0.8"/><text transform="translate(184.6,127.2) scale(1.16,1)" font-size="7.6" text-anchor="start" fill="#1a4a3a" stroke="#1a4a3a" stroke-width="0.25">Lic. Site</text><g fill="#333"><text transform="translate(117.3,102.6) scale(1.16,1)" font-size="7.2" text-anchor="start" fill="#222" stroke="#222" stroke-width="0.3">CASSINO</text><text transform="translate(86.7,116.8) scale(1.16,1)" font-size="7.2" text-anchor="start" fill="#222" stroke="#222" stroke-width="0.3">QUERÊNCIA</text><text transform="translate(284.3,121.8) scale(1.16,1)" font-size="7.2" text-anchor="start" fill="#222" stroke="#222" stroke-width="0.3">CARPINTEIRO</text><text transform="translate(284.3,131.2) scale(1.16,1)" font-size="7.2" text-anchor="start" fill="#222" stroke="#222" stroke-width="0.3">PARCEL</text></g><ellipse cx="157.3" cy="105.2" rx="2.7" ry="2.2" fill="#d40000"/><ellipse cx="142.9" cy="116.2" rx="2.7" ry="2.2" fill="#d40000"/><use href="#compass" x="34.2" y="26.4"/></g><path d="M0,268.7 L0,0 L362,0" fill="none" stroke="#8a8a8a" stroke-width="1"/><path d="M0,268.7 L362,268.7" fill="none" stroke="#a8a4a0" stroke-width="0.7"/><path d="M17.2,0v2.6M17.2,268.7v-2.6" stroke="#888" stroke-width="0.6"/><path d="M77.3,0v2.6M77.3,268.7v-2.6" stroke="#888" stroke-width="0.6"/><path d="M137.4,0v2.6M137.4,268.7v-2.6" stroke="#888" stroke-width="0.6"/><path d="M197.5,0v2.6M197.5,268.7v-2.6" stroke="#888" stroke-width="0.6"/><path d="M257.6,0v2.6M257.6,268.7v-2.6" stroke="#888" stroke-width="0.6"/><path d="M317.7,0v2.6M317.7,268.7v-2.6" stroke="#888" stroke-width="0.6"/><path d="M0,0h3" stroke="#777" stroke-width="0.7"/><path d="M0,53.7h3" stroke="#777" stroke-width="0.7"/><path d="M0,107.5h3" stroke="#777" stroke-width="0.7"/><path d="M0,161.2h3" stroke="#777" stroke-width="0.7"/><path d="M0,215h3" stroke="#777" stroke-width="0.7"/><path d="M0,268.7h3" stroke="#777" stroke-width="0.7"/><text transform="translate(17.8,288.8) scale(1.16,1)" font-size="15.4" text-anchor="middle" fill="#363636" stroke="#363636" stroke-width="0.34">-52.6</text><text transform="translate(77.9,288.8) scale(1.16,1)" font-size="15.4" text-anchor="middle" fill="#363636" stroke="#363636" stroke-width="0.34">-52.4</text><text transform="translate(138,288.8) scale(1.16,1)" font-size="15.4" text-anchor="middle" fill="#363636" stroke="#363636" stroke-width="0.34">-52.2</text><text transform="translate(198.1,288.8) scale(1.16,1)" font-size="15.4" text-anchor="middle" fill="#363636" stroke="#363636" stroke-width="0.34">-52</text><text transform="translate(258.2,288.8) scale(1.16,1)" font-size="15.4" text-anchor="middle" fill="#363636" stroke="#363636" stroke-width="0.34">-51.8</text><text transform="translate(318.3,288.8) scale(1.16,1)" font-size="15.4" text-anchor="middle" fill="#363636" stroke="#363636" stroke-width="0.34">-51.6</text><text transform="translate(-5.2,7) scale(1.16,1)" font-size="15.4" text-anchor="end" fill="#363636" stroke="#363636" stroke-width="0.34">-31.8</text><text transform="translate(-5.2,60.7) scale(1.16,1)" font-size="15.4" text-anchor="end" fill="#363636" stroke="#363636" stroke-width="0.34">-32</text><text transform="translate(-5.2,114.5) scale(1.16,1)" font-size="15.4" text-anchor="end" fill="#363636" stroke="#363636" stroke-width="0.34">-32.2</text><text transform="translate(-5.2,168.2) scale(1.16,1)" font-size="15.4" text-anchor="end" fill="#363636" stroke="#363636" stroke-width="0.34">-32.4</text><text transform="translate(-5.2,222) scale(1.16,1)" font-size="15.4" text-anchor="end" fill="#363636" stroke="#363636" stroke-width="0.34">-32.6</text><text transform="translate(-5.2,275.7) scale(1.16,1)" font-size="15.4" text-anchor="end" fill="#363636" stroke="#363636" stroke-width="0.34">-32.8</text><text transform="translate(181.6,309.2) scale(1.15,1)" font-size="16.6" text-anchor="middle" fill="#363636" stroke="#363636" stroke-width="0.34">Longitude</text><text transform="translate(-57.6,134.3) rotate(-90) scale(1,1.16)" font-size="16.6" text-anchor="middle" fill="#363636" stroke="#363636" stroke-width="0.34">Latitude</text><rect x="371.8" y="0.8" width="17.5" height="267.9" fill="url(#cb)" stroke="#8a8080" stroke-width="0.5"/><path d="M389.3,268.7h-2.6" stroke="#555" stroke-width="0.6"/><text transform="translate(394.1,273.9) scale(1.16,1)" font-size="13.8" text-anchor="start" fill="#363636" stroke="#363636" stroke-width="0.34">0</text><path d="M389.3,224h-2.6" stroke="#555" stroke-width="0.6"/><text transform="translate(394.1,229.2) scale(1.16,1)" font-size="13.8" text-anchor="start" fill="#363636" stroke="#363636" stroke-width="0.34">0.05</text><path d="M389.3,179.4h-2.6" stroke="#555" stroke-width="0.6"/><text transform="translate(394.1,184.6) scale(1.16,1)" font-size="13.8" text-anchor="start" fill="#363636" stroke="#363636" stroke-width="0.34">0.1</text><path d="M389.3,134.8h-2.6" stroke="#555" stroke-width="0.6"/><text transform="translate(394.1,139.9) scale(1.16,1)" font-size="13.8" text-anchor="start" fill="#363636" stroke="#363636" stroke-width="0.34">0.15</text><path d="M389.3,90.1h-2.6" stroke="#555" stroke-width="0.6"/><text transform="translate(394.1,95.3) scale(1.16,1)" font-size="13.8" text-anchor="start" fill="#363636" stroke="#363636" stroke-width="0.34">0.2</text><path d="M389.3,45.4h-2.6" stroke="#555" stroke-width="0.6"/><text transform="translate(394.1,50.6) scale(1.16,1)" font-size="13.8" text-anchor="start" fill="#363636" stroke="#363636" stroke-width="0.34">0.25</text><path d="M389.3,0.8h-2.6" stroke="#555" stroke-width="0.6"/><text transform="translate(394.1,6) scale(1.16,1)" font-size="13.8" text-anchor="start" fill="#363636" stroke="#363636" stroke-width="0.34">0.3</text><text transform="translate(380.9,-3.6) scale(1.16,1)" font-size="10" text-anchor="middle" fill="#363636" stroke="#363636" stroke-width="0.34">(m)</text></g>
<g transform="translate(533,399.2) scale(0.8255,0.8255)" filter="url(#b1s)"><g clip-path="url(#axclip)"><path d="M321,-1.8C320.4,-1.5 320.8,-1.8 317.4,0C314,1.8 306.7,5.5 300.5,8.7C294.3,11.9 287,15.5 280.3,19.2C273.6,22.9 266.9,26.4 260.2,30.6C253.5,34.8 246.7,39.6 240,44.6C233.3,49.6 226.7,55.2 220,60.5C213.3,65.8 205.8,71.9 200,76.5C194.2,81.1 188.7,85.3 185,88C181.3,90.7 179.2,91.8 178,92.5L175.2,110.3L166.5,98.2C164.7,98.6 160,98.2 155.6,100.4C151.2,102.6 145,107.8 140.3,111.6C135.6,115.4 131.6,119.3 127.5,123.5C123.5,127.7 119.8,132.2 116,137C112.2,141.8 108.2,147.4 105,152.5C101.8,157.6 99,162.8 96.5,167.5C94,172.2 92.5,175.7 90,181C87.5,186.3 84.1,193.7 81.7,199.2C79.3,204.7 77.3,209.8 75.5,214C73.7,218.2 72.8,219.7 71,224.5C69.2,229.3 66.9,235.5 64.5,242.9C62.1,250.3 58.1,264.4 56.8,268.7L364,270.7 L364,-2 L321,-2Z" fill="#d5cec7"/><g clip-path="url(#seaclip)"><path d="M252,31C254.3,30.3 261.5,27.9 266,27C270.5,26.1 274.9,24.7 278.8,25.9C282.7,27.1 285.5,30.7 289.4,34.4C293.3,38.1 298.9,44.1 302.1,48.2C305.3,52.3 307.8,54.6 308.5,58.8C309.2,63 306.6,68.7 306.4,73.6C306.2,78.5 307.6,83.8 307.4,88.4C307.2,93 307.3,97.9 305.3,101.1C303.3,104.2 297.9,104.4 295.3,107.3C292.7,110.2 291.6,113.9 289.7,118.6C287.8,123.3 284,130.7 284,135.4C284,140.1 289.7,142 289.7,146.7C289.7,151.4 287.8,158.3 284,163.5C280.2,168.7 271.2,172.9 267.2,177.6C263.2,182.3 261.1,186 260.2,191.6C259.3,197.2 263.2,205.7 261.6,211.3C260,216.9 255,220.2 250.3,225.3C245.6,230.5 238.2,237 233.5,242.2C228.8,247.4 225.5,251.7 222.2,256.3C218.9,260.9 215.2,267.7 213.8,270L56,270 L56.8,268.7 L64.5,242.9 L71,224.5 L75.5,214 L81.7,199.2 L90,181 L96.5,167.5 L105,152.5 L116,137 L127.5,123.5 L140.3,111.6 L155.6,100.4 L166.5,98.2 L175.2,110.3 L178,92.5 L185,88 L200,76.5 L220,60.5 L240,44.6 L260.2,30.6 L252,31Z" fill="#0000ff"/><path d="M208,73C210.4,71.2 217.5,64.7 222.2,62.4C226.9,60.1 231.3,59.5 236,59C240.7,58.5 246,59.1 250.3,59.6C254.6,60.1 258.2,60.6 262,62C265.8,63.4 269.1,64.7 272.8,68C276.5,71.3 282.4,76.8 284,82C285.6,87.2 284.9,93.8 282.6,98.9C280.3,104.1 274,107.8 270,112.9C266,118.1 261.6,124.2 258.8,129.8C256,135.4 255.9,141.1 253.1,146.7C250.3,152.3 244.7,158.8 241.9,163.5C239.1,168.2 239.1,170.1 236.3,174.8C233.5,179.5 228.8,186 225,191.6C221.2,197.2 218,202.4 213.8,208.5C209.6,214.6 204.5,221.5 199.8,228.1C195.1,234.7 189.9,240.8 185.7,247.8C181.5,254.8 176.4,266.3 174.5,270L56,270 L56.8,268.7 L64.5,242.9 L71,224.5 L75.5,214 L81.7,199.2 L90,181 L96.5,167.5 L105,152.5 L116,137 L127.5,123.5 L140.3,111.6 L155.6,100.4 L166.5,98.2 L171,100 L180,108 L192,98Z" fill="#0030ff"/><path d="M205,92C208.8,90.8 220.8,85.8 227.9,84.8C235,83.8 242.3,84.8 247.5,86.2C252.7,87.6 256.9,89.8 258.8,93.3C260.7,96.8 260.2,102.1 258.8,107.3C257.4,112.5 253.1,118.6 250.3,124.2C247.5,129.8 244.7,135.8 241.9,141C239.1,146.2 236.8,149.5 233.5,155.1C230.2,160.7 225.9,168.7 222.2,174.8C218.4,180.9 215.2,186 211,191.6C206.8,197.2 202.1,202.9 196.9,208.5C191.8,214.1 185.7,220.2 180.1,225.3C174.5,230.5 168.8,234.7 163.2,239.4C157.6,244.1 151.1,248.3 146.4,253.4C141.7,258.5 137,267.2 135.1,270L56,270 L56.8,268.7 L64.5,242.9 L71,224.5 L75.5,214 L81.7,199.2 L90,181 L96.5,167.5 L105,152.5 L116,137 L127.5,123.5 L140,122 L160,120 L182,108Z" fill="#0060ff"/><path d="M200,111C207.9,108.2 213.8,107.9 219.4,107.3C225,106.7 230.2,105.9 233.5,107.3C236.8,108.7 238.6,112 239.1,115.7C239.6,119.5 238.2,124.6 236.3,129.8C234.4,135 230.7,141.1 227.9,146.7C225.1,152.3 222.7,157.9 219.4,163.5C216.1,169.1 212.9,174.8 208.2,180.4C203.5,186 197.4,192 191.3,197.2C185.2,202.3 178.2,207.6 171.7,211.3C165.1,215.1 158.6,217.2 152,219.7C145.4,222.1 138,224.9 132,226C126,227.1 120,228 116,226C112,224 109,219 108,214C107,209 108.3,202 110,196C111.7,190 115.2,184.3 118,178C120.8,171.7 124.2,163.8 127,158C129.8,152.2 131.2,147.3 135,143C138.8,138.7 143.8,135.2 150,132C156.2,128.8 163.7,127.5 172,124C180.3,120.5 192.1,113.8 200,111Z" fill="#0094ff"/><path d="M196.9,127C203,125.1 209.4,119.8 213.8,118.6C218.2,117.4 221.5,118.1 223.6,120C225.7,121.9 226.6,125.4 226.4,129.8C226.2,134.2 222.9,141.1 222.2,146.7C221.5,152.3 223.6,158.8 222.2,163.5C220.8,168.2 217.5,170.6 213.8,174.8C210.1,179 205.4,184.1 199.8,188.8C194.2,193.5 187.1,199.2 180.1,202.9C173.1,206.7 164.2,210.4 157.6,211.3C151,212.2 144,211.8 140.7,208.5C137.4,205.2 137.4,197.2 137.9,191.6C138.4,186 141.2,180.4 143.6,174.8C145.9,169.2 148.7,163.5 152,157.9C155.3,152.3 159,145.7 163.2,141C167.4,136.3 171.7,132.1 177.3,129.8C182.9,127.5 190.8,128.9 196.9,127Z" fill="#00c4ff"/><path d="M199.8,129.8C204,128.4 210.5,124.2 213.8,124.2C217.1,124.2 218.9,126.1 219.4,129.8C219.9,133.6 216.6,141.1 216.6,146.7C216.6,152.3 220.8,158.8 219.4,163.5C218,168.2 212.9,170.6 208.2,174.8C203.5,179 197.4,185.1 191.3,188.8C185.2,192.5 177.8,195.3 171.7,197.2C165.6,199.1 158.6,201.4 154.8,200C151.1,198.6 149.2,193.5 149.2,188.8C149.2,184.1 152,177.6 154.8,172C157.6,166.4 162.2,160.3 166,155.1C169.8,149.9 173.6,144.8 177.3,141C181.1,137.2 184.8,134.5 188.5,132.6C192.2,130.7 195.6,131.2 199.8,129.8Z" fill="#00f4ff"/><ellipse cx="0" cy="0" rx="30" ry="13" transform="translate(194,160) rotate(-44)" fill="#00ffc0" filter="url(#b2)"/><ellipse cx="0" cy="0" rx="20" ry="10.5" transform="translate(195,161) rotate(-42)" fill="#48ff70" filter="url(#b3)"/><ellipse cx="0" cy="0" rx="12" ry="7" transform="translate(196.5,160) rotate(-38)" fill="#c0ff20" filter="url(#b3)"/><ellipse cx="0" cy="0" rx="8" ry="4.6" transform="translate(197,159.5) rotate(-34)" fill="#fff000" filter="url(#b3)"/><path d="M151.9,94.4C159.1,90.3 167.2,95.3 171,97.6C174.8,99.9 175.2,104.6 175,108C174.8,111.4 173.5,114.8 170,118C166.5,121.2 159.8,123.8 154,127C148.2,130.2 140.5,134.2 135,137C129.5,139.8 125.5,142.5 121,144C116.5,145.5 106.9,149.7 108,146C109.1,142.3 120.5,130.6 127.8,122C135.1,113.4 144.7,98.5 151.9,94.4Z" fill="#0094ff"/><path d="M151.9,94.4C158.2,91 166.7,95.4 170.5,97.6C174.3,99.8 174.9,104.8 174.5,107.5C174.1,110.2 171.1,112 168,114C164.9,116 160.3,117.5 156,119.5C151.7,121.5 146.5,124 142,126C137.5,128 133.3,130 129,131.5C124.7,133 115.4,137.2 116,135C116.6,132.8 126.6,124.8 132.6,118C138.6,111.2 145.6,97.8 151.9,94.4Z" fill="#00c4ff"/><path d="M151.9,94.4C157.6,91.7 166.3,95.6 170,97.6C173.7,99.6 174.8,104.2 174,106.5C173.2,108.8 168.3,110 165,111.5C161.7,113 157.8,113.9 154,115.5C150.2,117.1 145.7,119.2 142,121C138.3,122.8 135,124.8 132,126C129,127.2 123.4,130 124,128C124.6,126 131.2,119.6 135.8,114C140.5,108.4 146.2,97.1 151.9,94.4Z" fill="#00f4ff"/></g><path d="M321,-1.8C320.4,-1.5 320.8,-1.8 317.4,0C314,1.8 306.7,5.5 300.5,8.7C294.3,11.9 287,15.5 280.3,19.2C273.6,22.9 266.9,26.4 260.2,30.6C253.5,34.8 246.7,39.6 240,44.6C233.3,49.6 226.7,55.2 220,60.5C213.3,65.8 205.8,71.9 200,76.5C194.2,81.1 188.7,85.3 185,88C181.3,90.7 179.2,91.8 178,92.5" fill="none" stroke="#555" stroke-width="0.7"/><path d="M166.5,98.2C164.7,98.6 160,98.2 155.6,100.4C151.2,102.6 145,107.8 140.3,111.6C135.6,115.4 131.6,119.3 127.5,123.5C123.5,127.7 119.8,132.2 116,137C112.2,141.8 108.2,147.4 105,152.5C101.8,157.6 99,162.8 96.5,167.5C94,172.2 92.5,175.7 90,181C87.5,186.3 84.1,193.7 81.7,199.2C79.3,204.7 77.3,209.8 75.5,214C73.7,218.2 72.8,219.7 71,224.5C69.2,229.3 66.9,235.5 64.5,242.9C62.1,250.3 58.1,264.4 56.8,268.7" fill="none" stroke="#555" stroke-width="0.5"/><use href="#lagoon"/><path d="M169.2,85 C168.6,95 172,102 174.4,110.5 L176.4,109.8 C174.4,102 172.6,96 172.8,88Z" fill="#ece6e6" stroke="#777" stroke-width="0.45"/><path d="M259,124.4C258.6,126.7 258.9,131.4 259.9,133.2C260.9,134.9 262.9,135.2 265.1,134.9C267.3,134.6 271.2,133.4 273,131.4C274.8,129.4 274.7,125.5 275.6,122.7C276.5,119.9 276.8,117 278.2,114.8C279.6,112.6 282,111 284.3,109.6C286.6,108.1 290.1,107.4 292.2,106.1C294.2,104.8 296,103.6 296.6,101.7C297.2,99.8 296.6,96.3 295.7,94.7C294.8,93.1 293.2,92.4 291.3,92.1C289.4,91.8 286.3,92.1 284.3,93C282.3,93.9 281.1,95.5 279.1,97.3C277.1,99 274.4,101.2 272.1,103.5C269.8,105.8 266.7,108.7 265.1,111.3C263.5,113.9 263.5,117 262.5,119.2C261.5,121.4 259.4,122.1 259,124.4Z" fill="none" stroke="#10102a" stroke-width="0.85"/><path d="M186,161L200,152.3L205.4,156.5L191.9,166.3Z" fill="#f0f000" filter="url(#b5)"/><path d="M189,163.8L200,156.5L203,158.3L191.9,166.3Z" fill="#ff8000" filter="url(#b5)"/><path d="M180.9,155.7L194.7,148.1L205.4,156.5L191.9,166.3Z" fill="none" stroke="#111" stroke-width="0.8"/><text transform="translate(180,145.2) scale(1.16,1)" font-size="7.6" text-anchor="start" fill="#1a4a3a" stroke="#1a4a3a" stroke-width="0.25">Site A</text><g fill="#333"><text transform="translate(117.3,102.6) scale(1.16,1)" font-size="7.2" text-anchor="start" fill="#222" stroke="#222" stroke-width="0.3">CASSINO</text><text transform="translate(86.7,116.8) scale(1.16,1)" font-size="7.2" text-anchor="start" fill="#222" stroke="#222" stroke-width="0.3">QUERÊNCIA</text><text transform="translate(284.3,121.8) scale(1.16,1)" font-size="7.2" text-anchor="start" fill="#222" stroke="#222" stroke-width="0.3">CARPINTEIRO</text><text transform="translate(284.3,131.2) scale(1.16,1)" font-size="7.2" text-anchor="start" fill="#222" stroke="#222" stroke-width="0.3">PARCEL</text></g><ellipse cx="157.3" cy="105.2" rx="2.7" ry="2.2" fill="#d40000"/><ellipse cx="142.9" cy="116.2" rx="2.7" ry="2.2" fill="#d40000"/><use href="#compass" x="34.2" y="26.4"/></g><path d="M0,268.7 L0,0 L362,0" fill="none" stroke="#8a8a8a" stroke-width="1"/><path d="M0,268.7 L362,268.7" fill="none" stroke="#a8a4a0" stroke-width="0.7"/><path d="M17.2,0v2.6M17.2,268.7v-2.6" stroke="#888" stroke-width="0.6"/><path d="M77.3,0v2.6M77.3,268.7v-2.6" stroke="#888" stroke-width="0.6"/><path d="M137.4,0v2.6M137.4,268.7v-2.6" stroke="#888" stroke-width="0.6"/><path d="M197.5,0v2.6M197.5,268.7v-2.6" stroke="#888" stroke-width="0.6"/><path d="M257.6,0v2.6M257.6,268.7v-2.6" stroke="#888" stroke-width="0.6"/><path d="M317.7,0v2.6M317.7,268.7v-2.6" stroke="#888" stroke-width="0.6"/><path d="M0,0h3" stroke="#777" stroke-width="0.7"/><path d="M0,53.7h3" stroke="#777" stroke-width="0.7"/><path d="M0,107.5h3" stroke="#777" stroke-width="0.7"/><path d="M0,161.2h3" stroke="#777" stroke-width="0.7"/><path d="M0,215h3" stroke="#777" stroke-width="0.7"/><path d="M0,268.7h3" stroke="#777" stroke-width="0.7"/><text transform="translate(17.8,288.8) scale(1.16,1)" font-size="15.4" text-anchor="middle" fill="#363636" stroke="#363636" stroke-width="0.34">-52.6</text><text transform="translate(77.9,288.8) scale(1.16,1)" font-size="15.4" text-anchor="middle" fill="#363636" stroke="#363636" stroke-width="0.34">-52.4</text><text transform="translate(138,288.8) scale(1.16,1)" font-size="15.4" text-anchor="middle" fill="#363636" stroke="#363636" stroke-width="0.34">-52.2</text><text transform="translate(198.1,288.8) scale(1.16,1)" font-size="15.4" text-anchor="middle" fill="#363636" stroke="#363636" stroke-width="0.34">-52</text><text transform="translate(258.2,288.8) scale(1.16,1)" font-size="15.4" text-anchor="middle" fill="#363636" stroke="#363636" stroke-width="0.34">-51.8</text><text transform="translate(318.3,288.8) scale(1.16,1)" font-size="15.4" text-anchor="middle" fill="#363636" stroke="#363636" stroke-width="0.34">-51.6</text><text transform="translate(-5.2,7) scale(1.16,1)" font-size="15.4" text-anchor="end" fill="#363636" stroke="#363636" stroke-width="0.34">-31.8</text><text transform="translate(-5.2,60.7) scale(1.16,1)" font-size="15.4" text-anchor="end" fill="#363636" stroke="#363636" stroke-width="0.34">-32</text><text transform="translate(-5.2,114.5) scale(1.16,1)" font-size="15.4" text-anchor="end" fill="#363636" stroke="#363636" stroke-width="0.34">-32.2</text><text transform="translate(-5.2,168.2) scale(1.16,1)" font-size="15.4" text-anchor="end" fill="#363636" stroke="#363636" stroke-width="0.34">-32.4</text><text transform="translate(-5.2,222) scale(1.16,1)" font-size="15.4" text-anchor="end" fill="#363636" stroke="#363636" stroke-width="0.34">-32.6</text><text transform="translate(-5.2,275.7) scale(1.16,1)" font-size="15.4" text-anchor="end" fill="#363636" stroke="#363636" stroke-width="0.34">-32.8</text><text transform="translate(181.6,309.2) scale(1.15,1)" font-size="16.6" text-anchor="middle" fill="#363636" stroke="#363636" stroke-width="0.34">Longitude</text><text transform="translate(-57.6,134.3) rotate(-90) scale(1,1.16)" font-size="16.6" text-anchor="middle" fill="#363636" stroke="#363636" stroke-width="0.34">Latitude</text><rect x="371.8" y="0.8" width="17.5" height="267.9" fill="url(#cb)" stroke="#8a8080" stroke-width="0.5"/><path d="M389.3,268.7h-2.6" stroke="#555" stroke-width="0.6"/><text transform="translate(394.1,273.9) scale(1.16,1)" font-size="13.8" text-anchor="start" fill="#363636" stroke="#363636" stroke-width="0.34">0</text><path d="M389.3,224h-2.6" stroke="#555" stroke-width="0.6"/><text transform="translate(394.1,229.2) scale(1.16,1)" font-size="13.8" text-anchor="start" fill="#363636" stroke="#363636" stroke-width="0.34">0.05</text><path d="M389.3,179.4h-2.6" stroke="#555" stroke-width="0.6"/><text transform="translate(394.1,184.6) scale(1.16,1)" font-size="13.8" text-anchor="start" fill="#363636" stroke="#363636" stroke-width="0.34">0.1</text><path d="M389.3,134.8h-2.6" stroke="#555" stroke-width="0.6"/><text transform="translate(394.1,139.9) scale(1.16,1)" font-size="13.8" text-anchor="start" fill="#363636" stroke="#363636" stroke-width="0.34">0.15</text><path d="M389.3,90.1h-2.6" stroke="#555" stroke-width="0.6"/><text transform="translate(394.1,95.3) scale(1.16,1)" font-size="13.8" text-anchor="start" fill="#363636" stroke="#363636" stroke-width="0.34">0.2</text><path d="M389.3,45.4h-2.6" stroke="#555" stroke-width="0.6"/><text transform="translate(394.1,50.6) scale(1.16,1)" font-size="13.8" text-anchor="start" fill="#363636" stroke="#363636" stroke-width="0.34">0.25</text><path d="M389.3,0.8h-2.6" stroke="#555" stroke-width="0.6"/><text transform="translate(394.1,6) scale(1.16,1)" font-size="13.8" text-anchor="start" fill="#363636" stroke="#363636" stroke-width="0.34">0.3</text><text transform="translate(380.9,-3.6) scale(1.16,1)" font-size="10" text-anchor="middle" fill="#363636" stroke="#363636" stroke-width="0.34">(m)</text></g>
<g transform="translate(85.5,703.3) scale(0.8170,0.8170)" filter="url(#b1s)"><g clip-path="url(#axclip)"><path d="M321,-1.8C320.4,-1.5 320.8,-1.8 317.4,0C314,1.8 306.7,5.5 300.5,8.7C294.3,11.9 287,15.5 280.3,19.2C273.6,22.9 266.9,26.4 260.2,30.6C253.5,34.8 246.7,39.6 240,44.6C233.3,49.6 226.7,55.2 220,60.5C213.3,65.8 205.8,71.9 200,76.5C194.2,81.1 188.7,85.3 185,88C181.3,90.7 179.2,91.8 178,92.5L175.2,110.3L166.5,98.2C164.7,98.6 160,98.2 155.6,100.4C151.2,102.6 145,107.8 140.3,111.6C135.6,115.4 131.6,119.3 127.5,123.5C123.5,127.7 119.8,132.2 116,137C112.2,141.8 108.2,147.4 105,152.5C101.8,157.6 99,162.8 96.5,167.5C94,172.2 92.5,175.7 90,181C87.5,186.3 84.1,193.7 81.7,199.2C79.3,204.7 77.3,209.8 75.5,214C73.7,218.2 72.8,219.7 71,224.5C69.2,229.3 66.9,235.5 64.5,242.9C62.1,250.3 58.1,264.4 56.8,268.7L364,270.7 L364,-2 L321,-2Z" fill="#d5cec7"/><g clip-path="url(#seaclip)"><path d="M213.2,64.2C214.2,63.6 220.3,60 222,59C223.7,58 226.4,54.9 227.4,55.5C228.4,56.1 230,61.2 230.2,64.2C230.4,67.2 228.1,78.1 228.8,81.3C229.5,84.5 233.1,89.7 235.9,91.2C238.7,92.7 248.7,94.3 253,94C257.3,93.7 268.3,89.9 272.9,88.4C277.5,86.9 288.5,83.1 292.8,81.3C297.1,79.5 305.9,73.9 309.9,72.7C313.9,71.5 323.6,70.5 326.9,71.3C330.2,72.1 336.8,77.3 338.3,79.8C339.8,82.3 340.4,89.1 339.7,92.6C339,96.1 332.6,105.7 332.6,109.7C332.6,113.7 339.7,123 339.7,126.7C339.7,130.4 335.4,137.7 332.6,141C329.8,144.3 318.1,151.6 315.5,155.2C312.9,158.8 312.2,168.9 309.9,172.2C307.6,175.5 298.9,180.3 295.6,183.6C292.3,186.9 284,196.7 281.4,200.7C278.8,204.7 274.2,213.7 272.9,217.7C271.6,221.7 270.8,230.8 270.1,234.8C269.4,238.8 268.2,247.7 267.2,251.8C266.2,255.9 262.2,267.9 261.5,270L56,270 L56.8,268.7 L64.5,242.9 L71,224.5 L75.5,214 L81.7,199.2 L90,181 L96.5,167.5 L105,152.5 L116,137 L127.5,123.5 L140.3,111.6 L155.6,100.4 L166.5,98.2 L175.2,110.3 L178,92.5 L185,88 L200,76.5 L220,60.5 L213.2,64.2Z" fill="#0000ff"/><path d="M167,100C168.1,101.3 173.6,105.3 173.3,108C173,110.7 168.1,113.3 165,116C161.9,118.7 157.3,121.3 154.6,123.9C151.9,126.5 151.5,127 149,131.4C146.5,135.8 143.7,143.9 139.6,150.1C135.5,156.3 129.3,162.6 124.6,168.8C119.9,175.1 115.9,181.3 111.5,187.6C107.1,193.8 102.2,200.1 98.4,206.3C94.7,212.5 91.7,218.8 89,225C86.3,231.2 85,238.4 82.5,243.7C80,249 76.4,252.6 74,257C71.6,261.4 69,267.8 68,270L56,270L56.8,268.7 L64.5,242.9 L71,224.5 L75.5,214 L81.7,199.2 L90,181 L96.5,167.5 L105,152.5 L116,137 L127.5,123.5 L140.3,111.6 L155.6,100.4 L166.5,98.2Z" fill="#0030ff"/><path d="M201.3,157.2C206.5,156.3 211.8,156.5 217.4,154.5C223,152.5 229.7,148.1 234.8,145.2C239.9,142.3 243.7,139.6 248.1,137.1C252.5,134.6 257,132.2 261.5,130.4C266,128.6 270.7,127.1 274.9,126.4C279.1,125.7 283.1,125.1 286.9,126.4C290.7,127.8 295.1,130.7 297.6,134.5C300.1,138.3 301.7,144.1 301.7,149.2C301.7,154.3 299.8,160.3 297.6,165.2C295.4,170.1 291.9,173.9 288.3,178.6C284.7,183.3 280,188.6 276.2,193.3C272.4,198 268.4,202.9 265.5,206.7C262.6,210.5 260.7,213 258.8,216.3C256.9,219.6 256.9,221.2 254.1,226.3C251.3,231.4 245.7,239.3 242.3,246.9C238.9,254.5 248.2,267.8 233.5,272C218.8,276.2 166.3,277.1 154,272C141.7,266.9 157.9,250.2 159.9,241.1C161.9,232 164.3,225.3 165.8,217.5C167.3,209.7 167.7,201.8 168.7,194C169.7,186.2 168.8,176.1 171.7,170.4C174.6,164.7 181.1,162.2 186,160C190.9,157.8 196.1,158.1 201.3,157.2Z" fill="#0030ff"/><path d="M214.7,177.3C218.5,174.3 223.6,168.1 228.1,163.9C232.6,159.7 236.9,155.7 241.4,151.9C245.9,148.1 250.3,144 254.8,141.1C259.3,138.2 263.7,135.8 268.2,134.5C272.7,133.2 277.6,132.2 281.6,133.1C285.6,134 289.9,136.5 292.3,139.8C294.8,143.2 296.3,148.5 296.3,153.2C296.3,157.9 294.8,163.2 292.3,167.9C289.9,172.6 285.6,176.8 281.6,181.3C277.6,185.8 272.7,190.7 268.2,194.7C263.7,198.7 259.7,201.5 254.8,205.4C249.9,209.3 244.3,213.6 238.8,218C233.3,222.4 227.5,229 222,232C216.5,235 210.5,237.2 206,236C201.5,234.8 197.7,230.1 195.2,225C192.7,219.9 190.7,211.5 190.8,205.7C190.9,199.9 193.6,193.9 196,190C198.4,186.1 201.9,184.1 205,182C208.1,179.9 210.8,180.3 214.7,177.3Z" fill="#0060ff"/><path d="M209.3,190.7C211.8,187.1 217.2,181.8 221.4,177.3C225.7,172.8 230.4,168.1 234.8,163.9C239.2,159.7 243.7,155.5 248.1,151.9C252.5,148.3 256.8,144.5 261.5,142.5C266.2,140.5 272,139.4 276.2,139.8C280.4,140.2 284.7,142.1 286.9,145.2C289.1,148.3 290.3,154.1 289.6,158.5C288.9,162.9 286,167.4 282.9,171.9C279.8,176.4 275.1,181.1 270.9,185.3C266.7,189.5 262.4,193.7 257.5,197.3C252.6,200.9 247,204.5 241.4,206.7C235.8,208.9 229.1,210.7 224,210.7C218.9,210.7 213.6,208.7 210.7,206.7C207.8,204.7 206.9,201.4 206.7,198.7C206.5,196 206.9,194.3 209.3,190.7Z" fill="#0094ff"/><path d="M217.4,185.3C219.6,182 224.1,178.6 228.1,174.6C232.1,170.6 236.9,165.2 241.4,161.2C245.9,157.2 250.3,153.2 254.8,150.5C259.3,147.8 264,145.4 268.2,145.2C272.4,145 277.8,146.5 280.2,149.2C282.6,151.9 283.6,157.2 282.9,161.2C282.2,165.2 279.3,169.3 276.2,173.3C273.1,177.3 268.4,181.5 264.2,185.3C260,189.1 255.5,193.1 250.8,196C246.1,198.9 241,201.8 236.1,202.7C231.2,203.6 225,202.7 221.4,201.4C217.8,200.1 215.4,197.4 214.7,194.7C214,192 215.2,188.7 217.4,185.3Z" fill="#00c4ff"/><path d="M224,181.3C226,178.4 231.2,175 234.8,171.9C238.4,168.8 241.7,165.7 245.5,162.6C249.3,159.5 253.7,155.2 257.5,153.2C261.3,151.2 265.1,150.3 268.2,150.5C271.3,150.7 274.6,152.5 276.2,154.5C277.8,156.5 278.5,159.7 277.6,162.6C276.7,165.5 273.6,168.8 270.9,171.9C268.2,175 264.9,178.4 261.5,181.3C258.1,184.2 254.6,187.1 250.8,189.3C247,191.5 242.6,193.8 238.8,194.7C235,195.6 230.8,195.6 228.1,194.7C225.4,193.8 223.4,191.5 222.7,189.3C222,187.1 222,184.2 224,181.3Z" fill="#00f4ff"/><ellipse cx="0" cy="0" rx="17" ry="7" transform="translate(250,172) rotate(-38)" fill="#00ffd0" filter="url(#b2)"/><ellipse cx="0" cy="0" rx="9" ry="4.5" transform="translate(253,168) rotate(-38)" fill="#20ffa0" filter="url(#b2)"/><path d="M150,93C157,88.7 165.8,93.7 170,96C174.2,98.3 175.7,103.7 175,107C174.3,110.3 169.8,113.3 166,116C162.2,118.7 156.3,120.3 152,123C147.7,125.7 144,128.7 140,132C136,135.3 132,141.3 128,143C124,144.7 116,145.5 116,142C116,138.5 122.3,130.2 128,122C133.7,113.8 143,97.3 150,93Z" fill="#0094ff"/><path d="M150,93C155,91 166,93.8 170,96C174,98.2 175,103.2 174,106C173,108.8 167.8,110.5 164,112.5C160.2,114.5 154.8,116.1 151,118C147.2,119.9 144.5,123 141,124C137.5,125 130.2,126.7 130,124C129.8,121.3 136.7,113.2 140,108C143.3,102.8 145,95 150,93Z" fill="#00c4ff"/><path d="M152,94C155,93.5 164.6,95.1 168,97C171.4,98.9 173.5,103.4 172.5,105.5C171.5,107.6 165.4,108.4 162,109.5C158.6,110.6 155,111.8 152,112C149,112.2 144.3,113 144,111C143.7,109 148.7,102.8 150,100C151.3,97.2 149,94.5 152,94Z" fill="#00f4ff"/></g><path d="M321,-1.8C320.4,-1.5 320.8,-1.8 317.4,0C314,1.8 306.7,5.5 300.5,8.7C294.3,11.9 287,15.5 280.3,19.2C273.6,22.9 266.9,26.4 260.2,30.6C253.5,34.8 246.7,39.6 240,44.6C233.3,49.6 226.7,55.2 220,60.5C213.3,65.8 205.8,71.9 200,76.5C194.2,81.1 188.7,85.3 185,88C181.3,90.7 179.2,91.8 178,92.5" fill="none" stroke="#555" stroke-width="0.7"/><path d="M166.5,98.2C164.7,98.6 160,98.2 155.6,100.4C151.2,102.6 145,107.8 140.3,111.6C135.6,115.4 131.6,119.3 127.5,123.5C123.5,127.7 119.8,132.2 116,137C112.2,141.8 108.2,147.4 105,152.5C101.8,157.6 99,162.8 96.5,167.5C94,172.2 92.5,175.7 90,181C87.5,186.3 84.1,193.7 81.7,199.2C79.3,204.7 77.3,209.8 75.5,214C73.7,218.2 72.8,219.7 71,224.5C69.2,229.3 66.9,235.5 64.5,242.9C62.1,250.3 58.1,264.4 56.8,268.7" fill="none" stroke="#555" stroke-width="0.5"/><use href="#lagoon"/><path d="M169.2,85 C168.6,95 172,102 174.4,110.5 L176.4,109.8 C174.4,102 172.6,96 172.8,88Z" fill="#ece6e6" stroke="#777" stroke-width="0.45"/><path d="M259,124.4C258.6,126.7 258.9,131.4 259.9,133.2C260.9,134.9 262.9,135.2 265.1,134.9C267.3,134.6 271.2,133.4 273,131.4C274.8,129.4 274.7,125.5 275.6,122.7C276.5,119.9 276.8,117 278.2,114.8C279.6,112.6 282,111 284.3,109.6C286.6,108.1 290.1,107.4 292.2,106.1C294.2,104.8 296,103.6 296.6,101.7C297.2,99.8 296.6,96.3 295.7,94.7C294.8,93.1 293.2,92.4 291.3,92.1C289.4,91.8 286.3,92.1 284.3,93C282.3,93.9 281.1,95.5 279.1,97.3C277.1,99 274.4,101.2 272.1,103.5C269.8,105.8 266.7,108.7 265.1,111.3C263.5,113.9 263.5,117 262.5,119.2C261.5,121.4 259.4,122.1 259,124.4Z" fill="none" stroke="#10102a" stroke-width="0.85"/><path d="M250.6,171L263.5,160.1L255.8,154.8L242.6,165Z" fill="#28f890" filter="url(#b5)"/><path d="M250.6,171L263.5,160.1L259,157L246,167.5Z" fill="#50f868" filter="url(#b5)"/><path d="M237.3,161L250.6,151.3L263.5,160.1L250.6,171Z" fill="none" stroke="#111" stroke-width="0.8"/><text transform="translate(236.4,181) scale(1.16,1)" font-size="7.6" text-anchor="start" fill="#1a4a3a" stroke="#1a4a3a" stroke-width="0.25">Site B</text><g fill="#333"><text transform="translate(117.3,102.6) scale(1.16,1)" font-size="7.2" text-anchor="start" fill="#222" stroke="#222" stroke-width="0.3">CASSINO</text><text transform="translate(86.7,116.8) scale(1.16,1)" font-size="7.2" text-anchor="start" fill="#222" stroke="#222" stroke-width="0.3">QUERÊNCIA</text><text transform="translate(284.3,121.8) scale(1.16,1)" font-size="7.2" text-anchor="start" fill="#222" stroke="#222" stroke-width="0.3">CARPINTEIRO</text><text transform="translate(284.3,131.2) scale(1.16,1)" font-size="7.2" text-anchor="start" fill="#222" stroke="#222" stroke-width="0.3">PARCEL</text></g><ellipse cx="157.3" cy="105.2" rx="2.7" ry="2.2" fill="#d40000"/><ellipse cx="142.9" cy="116.2" rx="2.7" ry="2.2" fill="#d40000"/><use href="#compass" x="34.2" y="26.4"/></g><path d="M0,268.7 L0,0 L362,0" fill="none" stroke="#8a8a8a" stroke-width="1"/><path d="M0,268.7 L362,268.7" fill="none" stroke="#a8a4a0" stroke-width="0.7"/><path d="M17.2,0v2.6M17.2,268.7v-2.6" stroke="#888" stroke-width="0.6"/><path d="M77.3,0v2.6M77.3,268.7v-2.6" stroke="#888" stroke-width="0.6"/><path d="M137.4,0v2.6M137.4,268.7v-2.6" stroke="#888" stroke-width="0.6"/><path d="M197.5,0v2.6M197.5,268.7v-2.6" stroke="#888" stroke-width="0.6"/><path d="M257.6,0v2.6M257.6,268.7v-2.6" stroke="#888" stroke-width="0.6"/><path d="M317.7,0v2.6M317.7,268.7v-2.6" stroke="#888" stroke-width="0.6"/><path d="M0,0h3" stroke="#777" stroke-width="0.7"/><path d="M0,53.7h3" stroke="#777" stroke-width="0.7"/><path d="M0,107.5h3" stroke="#777" stroke-width="0.7"/><path d="M0,161.2h3" stroke="#777" stroke-width="0.7"/><path d="M0,215h3" stroke="#777" stroke-width="0.7"/><path d="M0,268.7h3" stroke="#777" stroke-width="0.7"/><text transform="translate(17.8,288.8) scale(1.16,1)" font-size="15.4" text-anchor="middle" fill="#363636" stroke="#363636" stroke-width="0.34">-52.6</text><text transform="translate(77.9,288.8) scale(1.16,1)" font-size="15.4" text-anchor="middle" fill="#363636" stroke="#363636" stroke-width="0.34">-52.4</text><text transform="translate(138,288.8) scale(1.16,1)" font-size="15.4" text-anchor="middle" fill="#363636" stroke="#363636" stroke-width="0.34">-52.2</text><text transform="translate(198.1,288.8) scale(1.16,1)" font-size="15.4" text-anchor="middle" fill="#363636" stroke="#363636" stroke-width="0.34">-52</text><text transform="translate(258.2,288.8) scale(1.16,1)" font-size="15.4" text-anchor="middle" fill="#363636" stroke="#363636" stroke-width="0.34">-51.8</text><text transform="translate(318.3,288.8) scale(1.16,1)" font-size="15.4" text-anchor="middle" fill="#363636" stroke="#363636" stroke-width="0.34">-51.6</text><text transform="translate(-5.2,7) scale(1.16,1)" font-size="15.4" text-anchor="end" fill="#363636" stroke="#363636" stroke-width="0.34">-31.8</text><text transform="translate(-5.2,60.7) scale(1.16,1)" font-size="15.4" text-anchor="end" fill="#363636" stroke="#363636" stroke-width="0.34">-32</text><text transform="translate(-5.2,114.5) scale(1.16,1)" font-size="15.4" text-anchor="end" fill="#363636" stroke="#363636" stroke-width="0.34">-32.2</text><text transform="translate(-5.2,168.2) scale(1.16,1)" font-size="15.4" text-anchor="end" fill="#363636" stroke="#363636" stroke-width="0.34">-32.4</text><text transform="translate(-5.2,222) scale(1.16,1)" font-size="15.4" text-anchor="end" fill="#363636" stroke="#363636" stroke-width="0.34">-32.6</text><text transform="translate(-5.2,275.7) scale(1.16,1)" font-size="15.4" text-anchor="end" fill="#363636" stroke="#363636" stroke-width="0.34">-32.8</text><text transform="translate(181.6,309.2) scale(1.15,1)" font-size="16.6" text-anchor="middle" fill="#363636" stroke="#363636" stroke-width="0.34">Longitude</text><text transform="translate(-57.6,134.3) rotate(-90) scale(1,1.16)" font-size="16.6" text-anchor="middle" fill="#363636" stroke="#363636" stroke-width="0.34">Latitude</text><rect x="371.8" y="0.8" width="17.5" height="267.9" fill="url(#cb)" stroke="#8a8080" stroke-width="0.5"/><path d="M389.3,268.7h-2.6" stroke="#555" stroke-width="0.6"/><text transform="translate(394.1,273.9) scale(1.16,1)" font-size="13.8" text-anchor="start" fill="#363636" stroke="#363636" stroke-width="0.34">0</text><path d="M389.3,224h-2.6" stroke="#555" stroke-width="0.6"/><text transform="translate(394.1,229.2) scale(1.16,1)" font-size="13.8" text-anchor="start" fill="#363636" stroke="#363636" stroke-width="0.34">0.05</text><path d="M389.3,179.4h-2.6" stroke="#555" stroke-width="0.6"/><text transform="translate(394.1,184.6) scale(1.16,1)" font-size="13.8" text-anchor="start" fill="#363636" stroke="#363636" stroke-width="0.34">0.1</text><path d="M389.3,134.8h-2.6" stroke="#555" stroke-width="0.6"/><text transform="translate(394.1,139.9) scale(1.16,1)" font-size="13.8" text-anchor="start" fill="#363636" stroke="#363636" stroke-width="0.34">0.15</text><path d="M389.3,90.1h-2.6" stroke="#555" stroke-width="0.6"/><text transform="translate(394.1,95.3) scale(1.16,1)" font-size="13.8" text-anchor="start" fill="#363636" stroke="#363636" stroke-width="0.34">0.2</text><path d="M389.3,45.4h-2.6" stroke="#555" stroke-width="0.6"/><text transform="translate(394.1,50.6) scale(1.16,1)" font-size="13.8" text-anchor="start" fill="#363636" stroke="#363636" stroke-width="0.34">0.25</text><path d="M389.3,0.8h-2.6" stroke="#555" stroke-width="0.6"/><text transform="translate(394.1,6) scale(1.16,1)" font-size="13.8" text-anchor="start" fill="#363636" stroke="#363636" stroke-width="0.34">0.3</text><text transform="translate(380.9,-3.6) scale(1.16,1)" font-size="10" text-anchor="middle" fill="#363636" stroke="#363636" stroke-width="0.34">(m)</text></g>
<g transform="translate(532.1,703.6) scale(0.8255,0.8255)" filter="url(#b1s)"><g clip-path="url(#axclip)"><path d="M321,-1.8C320.4,-1.5 320.8,-1.8 317.4,0C314,1.8 306.7,5.5 300.5,8.7C294.3,11.9 287,15.5 280.3,19.2C273.6,22.9 266.9,26.4 260.2,30.6C253.5,34.8 246.7,39.6 240,44.6C233.3,49.6 226.7,55.2 220,60.5C213.3,65.8 205.8,71.9 200,76.5C194.2,81.1 188.7,85.3 185,88C181.3,90.7 179.2,91.8 178,92.5L175.2,110.3L166.5,98.2C164.7,98.6 160,98.2 155.6,100.4C151.2,102.6 145,107.8 140.3,111.6C135.6,115.4 131.6,119.3 127.5,123.5C123.5,127.7 119.8,132.2 116,137C112.2,141.8 108.2,147.4 105,152.5C101.8,157.6 99,162.8 96.5,167.5C94,172.2 92.5,175.7 90,181C87.5,186.3 84.1,193.7 81.7,199.2C79.3,204.7 77.3,209.8 75.5,214C73.7,218.2 72.8,219.7 71,224.5C69.2,229.3 66.9,235.5 64.5,242.9C62.1,250.3 58.1,264.4 56.8,268.7L364,270.7 L364,-2 L321,-2Z" fill="#d5cec7"/><g clip-path="url(#seaclip)"><path d="M195.2,77.1C197.2,76 211.5,68 214.9,65.9C218.3,63.8 227.4,56.4 228.9,56.1C230.4,55.8 230.9,60.2 230.3,63.1C229.7,66 224.8,81.1 223.3,85.6C221.8,90.1 216.2,104.9 214.9,108C213.6,111.1 209.2,116.5 210.6,116.5C212,116.5 225.1,109.3 228.9,108C232.7,106.7 244.9,104.9 248.6,103.8C252.2,102.7 262,98.3 265.4,96.8C268.8,95.3 278.4,89.8 282.3,88.4C286.2,87 300.6,83.9 304.8,82.8C309,81.7 321,78.5 324.4,77.1C327.8,75.7 336.2,71 338.5,68.7C340.8,66.5 345.2,55.9 346.9,54.6C348.6,53.3 353.9,54.7 355.4,56.1C356.9,57.5 361.2,65.5 361.5,68.7C361.8,71.9 359.1,84.5 358.2,88.4C357.3,92.3 352,104.6 352.5,108C353,111.4 361.9,119.8 363,122.1C364.1,124.3 364.3,129.1 363,130.5C361.7,131.9 352.7,134.7 349.7,136.1C346.7,137.5 335.4,142.6 332.9,144.6C330.4,146.6 325.5,152.7 324.4,155.8C323.3,158.9 323,171.3 321.6,175.5C320.2,179.7 312.6,193.8 310.4,198C308.2,202.2 300.9,213.7 299.2,217.6C297.5,221.5 294.1,232.1 293.5,237.3C292.9,242.5 293.5,266.7 293.5,270L56,270 L56.8,268.7 L64.5,242.9 L71,224.5 L75.5,214 L81.7,199.2 L90,181 L96.5,167.5 L105,152.5 L116,137 L127.5,123.5 L140.3,111.6 L155.6,100.4 L166.5,98.2 L175.2,110.3 L178,92.5 L185,88 L200,76.5 L195.2,77.1Z" fill="#0000ff"/><path d="M260,126C259.8,124.7 260.7,121.4 262,120C263.3,118.6 267.2,117 268,117.5C268.8,118 267.8,121.2 267,123C266.2,124.8 264.2,127.5 263,128C261.8,128.5 260.2,127.3 260,126Z" fill="#d5cec7"/><path d="M167,100C167.7,100.8 172.3,102.7 171,105C169.7,107.3 164,110.2 159,114C154,117.8 146.5,122.3 141,128C135.5,133.7 130.8,141 126,148C121.2,155 116.7,162.2 112,170C107.3,177.8 102.3,186.3 98,195C93.7,203.7 89.5,213.3 86,222C82.5,230.7 79.7,239 77,247C74.3,255 71.2,266.2 70,270L56,270L56.8,268.7 L64.5,242.9 L71,224.5 L75.5,214 L81.7,199.2 L90,181 L96.5,167.5 L105,152.5 L116,137 L127.5,123.5 L140.3,111.6 L155.6,100.4 L166.5,98.2Z" fill="#0030ff"/><path d="M226.1,181.1C227,176.9 227.9,171.2 231.7,167C235.4,162.8 242,159.1 248.6,155.8C255.2,152.5 264.6,151.6 271.1,147.4C277.7,143.2 282.8,136.1 287.9,130.5C293,124.9 296.4,119.3 302,113.7C307.6,108.1 315.5,100.3 321.6,96.8C327.7,93.3 334.8,91.7 338.5,92.6C342.2,93.5 344.1,98 344.1,102.4C344.1,106.9 340.8,113.2 338.5,119.3C336.2,125.4 333.4,132.3 330.1,138.9C326.8,145.5 324,153 318.8,158.6C313.6,164.2 306.2,168.5 299.2,172.7C292.2,176.9 283.3,179.7 276.7,183.9C270.1,188.1 264.5,194.2 259.8,198C255.1,201.8 253.3,205.5 248.6,206.4C243.9,207.3 235.4,205.9 231.7,203.6C227.9,201.2 227,196.1 226.1,192.3C225.2,188.6 225.2,185.3 226.1,181.1Z" fill="#0030ff"/><path d="M276.7,158.6C275.8,155.3 283.7,147.9 287.9,141.8C292.1,135.7 296.9,128.7 302,122.1C307.1,115.5 313.2,106.9 318.8,102.4C324.4,98 331.9,94.9 335.7,95.4C339.4,95.9 341.3,100.8 341.3,105.2C341.3,109.7 338,116 335.7,122.1C333.4,128.2 331.1,136.2 327.3,141.8C323.6,147.4 318.8,152.5 313.2,155.8C307.6,159.1 299.6,160.9 293.5,161.4C287.4,161.9 277.6,161.9 276.7,158.6Z" fill="#0060ff"/><path d="M287.9,147.4C288.4,143.4 292.6,136.6 296.3,130.5C300.1,124.4 305.7,116.1 310.4,110.9C315.1,105.8 320.2,101.5 324.4,99.6C328.6,97.7 333.6,97.7 335.7,99.6C337.8,101.5 338,106.2 337.1,110.9C336.2,115.6 332.7,122.1 330.1,127.7C327.5,133.3 325.4,140.4 321.6,144.6C317.9,148.8 312.3,151.4 307.6,153C302.9,154.6 296.8,155.3 293.5,154.4C290.2,153.5 287.4,151.4 287.9,147.4Z" fill="#0094ff"/><path d="M295.1,139.6C294.4,136.1 296.5,130.8 299.1,126.4C301.8,122 307,116.2 311,113.1C315,110 319.8,108.3 322.9,107.9C326,107.5 328.6,107.9 329.5,110.5C330.4,113.1 329.3,119.7 328.2,123.7C327.1,127.7 325.1,131 322.9,134.3C320.7,137.6 318.3,141.4 315,143.6C311.7,145.8 306.4,148.2 303.1,147.5C299.8,146.8 295.8,143.1 295.1,139.6Z" fill="#00c4ff"/><path d="M297.1,134.3C296.2,131.3 296.2,125.1 297.8,122.4C299.4,119.8 303.7,119 307,118.4C310.3,117.9 315.2,118.2 317.6,119.1C320,120 321.2,121.2 321.6,123.7C322,126.2 321.5,131.7 320.2,134.3C318.9,137 316.5,138.6 313.6,139.6C310.8,140.6 305.9,141.2 303.1,140.3C300.4,139.4 298,137.3 297.1,134.3Z" fill="#00f4ff"/><path d="M150,93C157,88.7 165.8,93.7 170,96C174.2,98.3 175.7,103.7 175,107C174.3,110.3 169.8,113.3 166,116C162.2,118.7 156.3,120.3 152,123C147.7,125.7 144,128.7 140,132C136,135.3 132,141.3 128,143C124,144.7 116,145.5 116,142C116,138.5 122.3,130.2 128,122C133.7,113.8 143,97.3 150,93Z" fill="#0094ff"/><path d="M150,93C155,91 166,93.8 170,96C174,98.2 175,103.2 174,106C173,108.8 167.8,110.5 164,112.5C160.2,114.5 154.8,116.1 151,118C147.2,119.9 144.5,123 141,124C137.5,125 130.2,126.7 130,124C129.8,121.3 136.7,113.2 140,108C143.3,102.8 145,95 150,93Z" fill="#00c4ff"/><path d="M152,94C155,93.5 164.6,95.1 168,97C171.4,98.9 173.5,103.4 172.5,105.5C171.5,107.6 165.4,108.4 162,109.5C158.6,110.6 155,111.8 152,112C149,112.2 144.3,113 144,111C143.7,109 148.7,102.8 150,100C151.3,97.2 149,94.5 152,94Z" fill="#00f4ff"/></g><path d="M321,-1.8C320.4,-1.5 320.8,-1.8 317.4,0C314,1.8 306.7,5.5 300.5,8.7C294.3,11.9 287,15.5 280.3,19.2C273.6,22.9 266.9,26.4 260.2,30.6C253.5,34.8 246.7,39.6 240,44.6C233.3,49.6 226.7,55.2 220,60.5C213.3,65.8 205.8,71.9 200,76.5C194.2,81.1 188.7,85.3 185,88C181.3,90.7 179.2,91.8 178,92.5" fill="none" stroke="#555" stroke-width="0.7"/><path d="M166.5,98.2C164.7,98.6 160,98.2 155.6,100.4C151.2,102.6 145,107.8 140.3,111.6C135.6,115.4 131.6,119.3 127.5,123.5C123.5,127.7 119.8,132.2 116,137C112.2,141.8 108.2,147.4 105,152.5C101.8,157.6 99,162.8 96.5,167.5C94,172.2 92.5,175.7 90,181C87.5,186.3 84.1,193.7 81.7,199.2C79.3,204.7 77.3,209.8 75.5,214C73.7,218.2 72.8,219.7 71,224.5C69.2,229.3 66.9,235.5 64.5,242.9C62.1,250.3 58.1,264.4 56.8,268.7" fill="none" stroke="#555" stroke-width="0.5"/><use href="#lagoon"/><path d="M169.2,85 C168.6,95 172,102 174.4,110.5 L176.4,109.8 C174.4,102 172.6,96 172.8,88Z" fill="#ece6e6" stroke="#777" stroke-width="0.45"/><path d="M259,124.4C258.6,126.7 258.9,131.4 259.9,133.2C260.9,134.9 262.9,135.2 265.1,134.9C267.3,134.6 271.2,133.4 273,131.4C274.8,129.4 274.7,125.5 275.6,122.7C276.5,119.9 276.8,117 278.2,114.8C279.6,112.6 282,111 284.3,109.6C286.6,108.1 290.1,107.4 292.2,106.1C294.2,104.8 296,103.6 296.6,101.7C297.2,99.8 296.6,96.3 295.7,94.7C294.8,93.1 293.2,92.4 291.3,92.1C289.4,91.8 286.3,92.1 284.3,93C282.3,93.9 281.1,95.5 279.1,97.3C277.1,99 274.4,101.2 272.1,103.5C269.8,105.8 266.7,108.7 265.1,111.3C263.5,113.9 263.5,117 262.5,119.2C261.5,121.4 259.4,122.1 259,124.4Z" fill="none" stroke="#10102a" stroke-width="0.85"/><path d="M298.3,121.2L317.4,121.2L317.4,134.7L298.3,134.7Z" fill="#10f8d0" filter="url(#b5)"/><path d="M306,122.2L316.9,122.2L316.9,133.8L303,133.8Z" fill="#20f088" filter="url(#b5)"/><path d="M298.3,121.2L317.4,121.2L317.4,134.7L298.3,134.7Z" fill="none" stroke="#0a5a40" stroke-width="0.6"/><text transform="translate(296.3,147.6) scale(1.16,1)" font-size="7.6" text-anchor="start" fill="#1a4a3a" stroke="#1a4a3a" stroke-width="0.25">Site C</text><g fill="#333"><text transform="translate(117.3,102.6) scale(1.16,1)" font-size="7.2" text-anchor="start" fill="#222" stroke="#222" stroke-width="0.3">CASSINO</text><text transform="translate(86.7,116.8) scale(1.16,1)" font-size="7.2" text-anchor="start" fill="#222" stroke="#222" stroke-width="0.3">QUERÊNCIA</text><text transform="translate(266.3,81.3) scale(1.16,1)" font-size="7.2" text-anchor="start" fill="#222" stroke="#222" stroke-width="0.3">CARPINTEIRO</text><text transform="translate(266.3,90.7) scale(1.16,1)" font-size="7.2" text-anchor="start" fill="#222" stroke="#222" stroke-width="0.3">PARCEL</text></g><ellipse cx="157.3" cy="105.2" rx="2.7" ry="2.2" fill="#d40000"/><ellipse cx="142.9" cy="116.2" rx="2.7" ry="2.2" fill="#d40000"/><use href="#compass" x="34.2" y="26.4"/></g><path d="M0,268.7 L0,0 L362,0" fill="none" stroke="#8a8a8a" stroke-width="1"/><path d="M0,268.7 L362,268.7" fill="none" stroke="#a8a4a0" stroke-width="0.7"/><path d="M17.2,0v2.6M17.2,268.7v-2.6" stroke="#888" stroke-width="0.6"/><path d="M77.3,0v2.6M77.3,268.7v-2.6" stroke="#888" stroke-width="0.6"/><path d="M137.4,0v2.6M137.4,268.7v-2.6" stroke="#888" stroke-width="0.6"/><path d="M197.5,0v2.6M197.5,268.7v-2.6" stroke="#888" stroke-width="0.6"/><path d="M257.6,0v2.6M257.6,268.7v-2.6" stroke="#888" stroke-width="0.6"/><path d="M317.7,0v2.6M317.7,268.7v-2.6" stroke="#888" stroke-width="0.6"/><path d="M0,0h3" stroke="#777" stroke-width="0.7"/><path d="M0,53.7h3" stroke="#777" stroke-width="0.7"/><path d="M0,107.5h3" stroke="#777" stroke-width="0.7"/><path d="M0,161.2h3" stroke="#777" stroke-width="0.7"/><path d="M0,215h3" stroke="#777" stroke-width="0.7"/><path d="M0,268.7h3" stroke="#777" stroke-width="0.7"/><text transform="translate(17.8,288.8) scale(1.16,1)" font-size="15.4" text-anchor="middle" fill="#363636" stroke="#363636" stroke-width="0.34">-52.6</text><text transform="translate(77.9,288.8) scale(1.16,1)" font-size="15.4" text-anchor="middle" fill="#363636" stroke="#363636" stroke-width="0.34">-52.4</text><text transform="translate(138,288.8) scale(1.16,1)" font-size="15.4" text-anchor="middle" fill="#363636" stroke="#363636" stroke-width="0.34">-52.2</text><text transform="translate(198.1,288.8) scale(1.16,1)" font-size="15.4" text-anchor="middle" fill="#363636" stroke="#363636" stroke-width="0.34">-52</text><text transform="translate(258.2,288.8) scale(1.16,1)" font-size="15.4" text-anchor="middle" fill="#363636" stroke="#363636" stroke-width="0.34">-51.8</text><text transform="translate(318.3,288.8) scale(1.16,1)" font-size="15.4" text-anchor="middle" fill="#363636" stroke="#363636" stroke-width="0.34">-51.6</text><text transform="translate(-5.2,7) scale(1.16,1)" font-size="15.4" text-anchor="end" fill="#363636" stroke="#363636" stroke-width="0.34">-31.8</text><text transform="translate(-5.2,60.7) scale(1.16,1)" font-size="15.4" text-anchor="end" fill="#363636" stroke="#363636" stroke-width="0.34">-32</text><text transform="translate(-5.2,114.5) scale(1.16,1)" font-size="15.4" text-anchor="end" fill="#363636" stroke="#363636" stroke-width="0.34">-32.2</text><text transform="translate(-5.2,168.2) scale(1.16,1)" font-size="15.4" text-anchor="end" fill="#363636" stroke="#363636" stroke-width="0.34">-32.4</text><text transform="translate(-5.2,222) scale(1.16,1)" font-size="15.4" text-anchor="end" fill="#363636" stroke="#363636" stroke-width="0.34">-32.6</text><text transform="translate(-5.2,275.7) scale(1.16,1)" font-size="15.4" text-anchor="end" fill="#363636" stroke="#363636" stroke-width="0.34">-32.8</text><text transform="translate(181.6,309.2) scale(1.15,1)" font-size="16.6" text-anchor="middle" fill="#363636" stroke="#363636" stroke-width="0.34">Longitude</text><text transform="translate(-57.6,134.3) rotate(-90) scale(1,1.16)" font-size="16.6" text-anchor="middle" fill="#363636" stroke="#363636" stroke-width="0.34">Latitude</text><rect x="371.8" y="0.8" width="17.5" height="267.9" fill="url(#cb)" stroke="#8a8080" stroke-width="0.5"/><path d="M389.3,268.7h-2.6" stroke="#555" stroke-width="0.6"/><text transform="translate(394.1,273.9) scale(1.16,1)" font-size="13.8" text-anchor="start" fill="#363636" stroke="#363636" stroke-width="0.34">0</text><path d="M389.3,224h-2.6" stroke="#555" stroke-width="0.6"/><text transform="translate(394.1,229.2) scale(1.16,1)" font-size="13.8" text-anchor="start" fill="#363636" stroke="#363636" stroke-width="0.34">0.05</text><path d="M389.3,179.4h-2.6" stroke="#555" stroke-width="0.6"/><text transform="translate(394.1,184.6) scale(1.16,1)" font-size="13.8" text-anchor="start" fill="#363636" stroke="#363636" stroke-width="0.34">0.1</text><path d="M389.3,134.8h-2.6" stroke="#555" stroke-width="0.6"/><text transform="translate(394.1,139.9) scale(1.16,1)" font-size="13.8" text-anchor="start" fill="#363636" stroke="#363636" stroke-width="0.34">0.15</text><path d="M389.3,90.1h-2.6" stroke="#555" stroke-width="0.6"/><text transform="translate(394.1,95.3) scale(1.16,1)" font-size="13.8" text-anchor="start" fill="#363636" stroke="#363636" stroke-width="0.34">0.2</text><path d="M389.3,45.4h-2.6" stroke="#555" stroke-width="0.6"/><text transform="translate(394.1,50.6) scale(1.16,1)" font-size="13.8" text-anchor="start" fill="#363636" stroke="#363636" stroke-width="0.34">0.25</text><path d="M389.3,0.8h-2.6" stroke="#555" stroke-width="0.6"/><text transform="translate(394.1,6) scale(1.16,1)" font-size="13.8" text-anchor="start" fill="#363636" stroke="#363636" stroke-width="0.34">0.3</text><text transform="translate(380.9,-3.6) scale(1.16,1)" font-size="10" text-anchor="middle" fill="#363636" stroke="#363636" stroke-width="0.34">(m)</text></g>
</svg></body></html>
